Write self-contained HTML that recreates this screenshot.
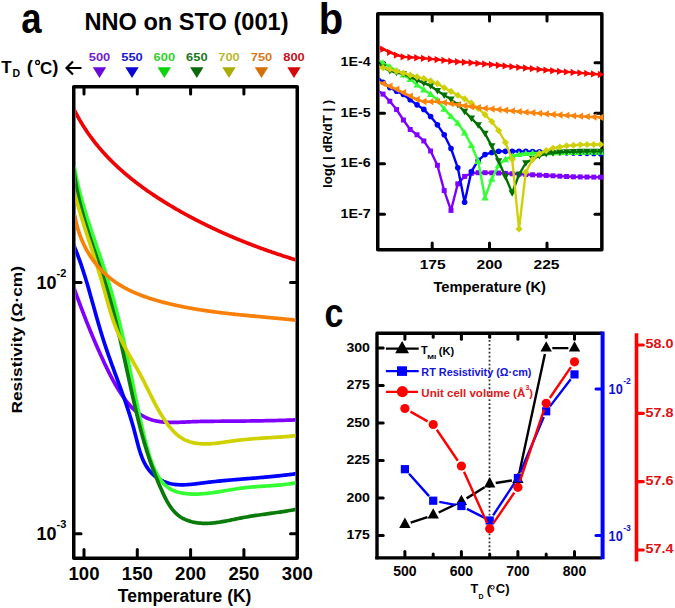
<!DOCTYPE html>
<html><head><meta charset="utf-8"><style>
html,body{margin:0;padding:0;background:#fff;}
svg{display:block;}
</style></head><body>
<svg width="675" height="608" viewBox="0 0 675 608">
<rect width="675" height="608" fill="#fff"/>
<text transform="translate(21.3,33.4) scale(0.87,1)" x="0" y="0" font-size="42" font-family="Liberation Sans, sans-serif" font-weight="bold">a</text>
<text x="84.5" y="30" font-size="24" font-family="Liberation Sans, sans-serif" font-weight="bold" textLength="204" lengthAdjust="spacingAndGlyphs">NNO on STO (001)</text>
<text x="1.3" y="73.3" font-size="17" font-family="Liberation Sans, sans-serif" font-weight="bold">T</text>
<text x="12.6" y="77.4" font-size="10.5" font-family="Liberation Sans, sans-serif" font-weight="bold">D</text>
<text x="26.8" y="72.7" font-size="18.5" font-family="Liberation Sans, sans-serif" font-weight="bold">(</text>
<circle cx="37.6" cy="62.4" r="1.9" fill="none" stroke="#000" stroke-width="1.3"/>
<text x="40" y="74" font-size="17" font-family="Liberation Sans, sans-serif" font-weight="bold">C</text>
<text x="52.3" y="72.7" font-size="18.5" font-family="Liberation Sans, sans-serif" font-weight="bold">)</text>
<path d="M81.5,68 H66.5 M73,61.5 L66.5,68 L73,74.5" fill="none" stroke="#000" stroke-width="2.2" stroke-linecap="butt"/>
<text x="99.5" y="61.3" font-size="11.5" font-family="Liberation Sans, sans-serif" font-weight="bold" fill="#7020d0" text-anchor="middle" textLength="21.5" lengthAdjust="spacingAndGlyphs">500</text>
<path d="M92.8,67.3 L106.2,67.3 L99.5,77.9 Z" fill="#6a0ad8"/>
<text x="132.0" y="61.3" font-size="11.5" font-family="Liberation Sans, sans-serif" font-weight="bold" fill="#1a1acc" text-anchor="middle" textLength="21.5" lengthAdjust="spacingAndGlyphs">550</text>
<path d="M125.3,67.3 L138.7,67.3 L132.0,77.9 Z" fill="#0808d0"/>
<text x="164.3" y="61.3" font-size="11.5" font-family="Liberation Sans, sans-serif" font-weight="bold" fill="#30d030" text-anchor="middle" textLength="21.5" lengthAdjust="spacingAndGlyphs">600</text>
<path d="M157.6,67.3 L171.0,67.3 L164.3,77.9 Z" fill="#0cd40c"/>
<text x="196.8" y="61.3" font-size="11.5" font-family="Liberation Sans, sans-serif" font-weight="bold" fill="#187818" text-anchor="middle" textLength="21.5" lengthAdjust="spacingAndGlyphs">650</text>
<path d="M190.1,67.3 L203.5,67.3 L196.8,77.9 Z" fill="#0c6a0c"/>
<text x="229.0" y="61.3" font-size="11.5" font-family="Liberation Sans, sans-serif" font-weight="bold" fill="#b8b830" text-anchor="middle" textLength="21.5" lengthAdjust="spacingAndGlyphs">700</text>
<path d="M222.3,67.3 L235.7,67.3 L229.0,77.9 Z" fill="#acac08"/>
<text x="261.5" y="61.3" font-size="11.5" font-family="Liberation Sans, sans-serif" font-weight="bold" fill="#d87820" text-anchor="middle" textLength="21.5" lengthAdjust="spacingAndGlyphs">750</text>
<path d="M254.8,67.3 L268.2,67.3 L261.5,77.9 Z" fill="#d47004"/>
<text x="294.0" y="61.3" font-size="11.5" font-family="Liberation Sans, sans-serif" font-weight="bold" fill="#c81020" text-anchor="middle" textLength="21.5" lengthAdjust="spacingAndGlyphs">800</text>
<path d="M287.3,67.3 L300.7,67.3 L294.0,77.9 Z" fill="#d40808"/>
<rect x="73.75" y="86.75" width="223.5" height="471.5" fill="none" stroke="#000" stroke-width="3.5" stroke-linejoin="round"/>
<line x1="84.0" y1="556.5" x2="84.0" y2="549.5" stroke="#000" stroke-width="3" stroke-linecap="round"/>
<line x1="84.0" y1="88.5" x2="84.0" y2="94" stroke="#000" stroke-width="3" stroke-linecap="round"/>
<line x1="137.3" y1="556.5" x2="137.3" y2="549.5" stroke="#000" stroke-width="3" stroke-linecap="round"/>
<line x1="137.3" y1="88.5" x2="137.3" y2="94" stroke="#000" stroke-width="3" stroke-linecap="round"/>
<line x1="190.6" y1="556.5" x2="190.6" y2="549.5" stroke="#000" stroke-width="3" stroke-linecap="round"/>
<line x1="190.6" y1="88.5" x2="190.6" y2="94" stroke="#000" stroke-width="3" stroke-linecap="round"/>
<line x1="243.9" y1="556.5" x2="243.9" y2="549.5" stroke="#000" stroke-width="3" stroke-linecap="round"/>
<line x1="243.9" y1="88.5" x2="243.9" y2="94" stroke="#000" stroke-width="3" stroke-linecap="round"/>
<line x1="75.5" y1="282.5" x2="81" y2="282.5" stroke="#000" stroke-width="3" stroke-linecap="round"/>
<line x1="295.5" y1="282.5" x2="290.5" y2="282.5" stroke="#000" stroke-width="3" stroke-linecap="round"/>
<line x1="75.5" y1="533.7" x2="81" y2="533.7" stroke="#000" stroke-width="3" stroke-linecap="round"/>
<line x1="295.5" y1="533.7" x2="290.5" y2="533.7" stroke="#000" stroke-width="3" stroke-linecap="round"/>
<text x="84.0" y="579.7" font-size="17.5" font-family="Liberation Sans, sans-serif" font-weight="bold" text-anchor="middle" textLength="31" lengthAdjust="spacingAndGlyphs">100</text>
<text x="137.3" y="579.7" font-size="17.5" font-family="Liberation Sans, sans-serif" font-weight="bold" text-anchor="middle" textLength="31" lengthAdjust="spacingAndGlyphs">150</text>
<text x="190.6" y="579.7" font-size="17.5" font-family="Liberation Sans, sans-serif" font-weight="bold" text-anchor="middle" textLength="31" lengthAdjust="spacingAndGlyphs">200</text>
<text x="243.9" y="579.7" font-size="17.5" font-family="Liberation Sans, sans-serif" font-weight="bold" text-anchor="middle" textLength="31" lengthAdjust="spacingAndGlyphs">250</text>
<text x="297.3" y="579.7" font-size="17.5" font-family="Liberation Sans, sans-serif" font-weight="bold" text-anchor="middle" textLength="31" lengthAdjust="spacingAndGlyphs">300</text>
<text x="36.4" y="289.0" font-size="18" font-family="Liberation Sans, sans-serif" font-weight="bold">10</text>
<text x="56.6" y="277.1" font-size="11" font-family="Liberation Sans, sans-serif" font-weight="bold">-2</text>
<text x="36.4" y="540.2" font-size="18" font-family="Liberation Sans, sans-serif" font-weight="bold">10</text>
<text x="56.6" y="528.3" font-size="11" font-family="Liberation Sans, sans-serif" font-weight="bold">-3</text>
<text x="117.8" y="601.5" font-size="17.5" font-family="Liberation Sans, sans-serif" font-weight="bold" textLength="133.6" lengthAdjust="spacingAndGlyphs">Temperature (K)</text>
<text transform="translate(21.8,413.5) rotate(-90)" x="0" y="0" font-size="15.5" font-family="Liberation Sans, sans-serif" font-weight="bold" textLength="147.5" lengthAdjust="spacingAndGlyphs">Resistivity (Ω·cm)</text>
<defs><clipPath id="ca"><rect x="75.5" y="88.5" width="220" height="468"/></clipPath><clipPath id="cb"><rect x="379.5" y="15.5" width="224.5" height="232.5"/></clipPath></defs>
<g clip-path="url(#ca)" fill="none" stroke-width="3.7" stroke-linejoin="round" stroke-linecap="round">
<path d="M74.29,288.93 L74.64,289.90 L74.99,290.86 L75.34,291.83 L75.69,292.80 L76.04,293.76 L76.39,294.72 L76.74,295.68 L77.09,296.64 L77.44,297.60 L77.80,298.56 L78.15,299.51 L78.50,300.47 L78.86,301.42 L79.21,302.37 L79.56,303.32 L79.92,304.27 L80.28,305.22 L80.63,306.16 L80.99,307.11 L81.34,308.05 L81.70,309.00 L82.06,309.94 L82.42,310.88 L82.78,311.82 L83.14,312.76 L83.50,313.70 L83.86,314.64 L84.22,315.58 L84.59,316.51 L84.95,317.45 L85.32,318.38 L85.68,319.31 L86.05,320.24 L86.41,321.18 L86.78,322.11 L87.15,323.04 L87.52,323.97 L87.89,324.89 L88.26,325.82 L88.64,326.75 L89.01,327.68 L89.39,328.60 L89.76,329.53 L90.14,330.45 L90.52,331.37 L90.90,332.30 L91.28,333.22 L91.66,334.14 L92.04,335.06 L92.43,335.99 L92.81,336.91 L93.20,337.83 L93.59,338.75 L93.98,339.67 L94.37,340.59 L94.76,341.51 L95.15,342.42 L95.55,343.34 L95.94,344.26 L96.34,345.18 L96.74,346.10 L97.14,347.01 L97.54,347.93 L97.94,348.85 L98.35,349.76 L98.76,350.68 L99.16,351.60 L99.57,352.51 L99.99,353.43 L100.40,354.35 L100.81,355.26 L101.23,356.18 L101.65,357.10 L102.07,358.01 L102.49,358.93 L102.91,359.85 L103.34,360.76 L103.76,361.68 L104.19,362.60 L104.62,363.51 L105.06,364.43 L105.49,365.35 L105.93,366.27 L106.37,367.18 L106.81,368.10 L107.25,369.01 L107.70,369.93 L108.15,370.84 L108.60,371.75 L109.06,372.67 L109.52,373.58 L109.98,374.49 L110.45,375.39 L110.91,376.30 L111.39,377.20 L111.86,378.11 L112.34,379.01 L112.83,379.91 L113.32,380.80 L113.81,381.70 L114.30,382.59 L114.81,383.48 L115.31,384.37 L115.82,385.25 L116.33,386.13 L116.85,387.01 L117.38,387.88 L117.91,388.76 L118.44,389.63 L118.98,390.49 L119.53,391.35 L120.08,392.21 L120.63,393.06 L121.20,393.91 L121.76,394.76 L122.34,395.60 L122.92,396.44 L123.50,397.27 L124.09,398.10 L124.69,398.92 L125.30,399.74 L125.91,400.55 L126.53,401.35 L127.16,402.14 L127.79,402.92 L128.44,403.70 L129.09,404.46 L129.75,405.21 L130.42,405.95 L131.10,406.68 L131.79,407.40 L132.48,408.10 L133.19,408.79 L133.90,409.46 L134.63,410.12 L135.37,410.76 L136.12,411.38 L136.87,411.99 L137.64,412.59 L138.42,413.16 L139.21,413.72 L140.01,414.26 L140.81,414.78 L141.63,415.29 L142.46,415.77 L143.29,416.24 L144.14,416.70 L144.99,417.13 L145.85,417.55 L146.72,417.95 L147.60,418.33 L148.49,418.69 L149.39,419.03 L150.29,419.36 L151.20,419.66 L152.12,419.95 L153.05,420.22 L153.98,420.47 L154.92,420.70 L155.87,420.91 L156.82,421.11 L157.78,421.29 L158.75,421.45 L159.72,421.60 L160.70,421.73 L161.68,421.85 L162.67,421.96 L163.66,422.05 L164.66,422.14 L165.66,422.20 L166.67,422.26 L167.68,422.31 L168.69,422.35 L169.70,422.37 L170.72,422.39 L171.74,422.40 L172.77,422.41 L173.79,422.40 L174.82,422.39 L175.85,422.37 L176.88,422.35 L177.92,422.32 L178.95,422.29 L179.98,422.25 L181.02,422.21 L182.05,422.17 L183.09,422.12 L184.12,422.08 L185.16,422.03 L186.19,421.98 L187.22,421.93 L188.25,421.89 L189.28,421.84 L190.31,421.80 L191.33,421.76 L192.36,421.72 L193.38,421.68 L194.40,421.64 L195.42,421.61 L196.43,421.58 L197.45,421.55 L198.46,421.52 L199.47,421.50 L200.48,421.47 L201.49,421.45 L202.50,421.43 L203.51,421.41 L204.51,421.39 L205.52,421.38 L206.52,421.36 L207.52,421.35 L208.53,421.33 L209.53,421.32 L210.53,421.31 L211.53,421.30 L212.53,421.29 L213.53,421.28 L214.53,421.27 L215.53,421.26 L216.53,421.26 L217.53,421.25 L218.52,421.24 L219.52,421.24 L220.52,421.23 L221.52,421.22 L222.52,421.22 L223.52,421.21 L224.52,421.21 L225.52,421.20 L226.52,421.19 L227.52,421.19 L228.52,421.18 L229.52,421.17 L230.53,421.17 L231.53,421.16 L232.53,421.15 L233.54,421.14 L234.54,421.14 L235.54,421.13 L236.55,421.12 L237.55,421.11 L238.56,421.10 L239.57,421.09 L240.57,421.08 L241.58,421.07 L242.58,421.06 L243.59,421.05 L244.60,421.04 L245.61,421.03 L246.61,421.01 L247.62,421.00 L248.63,420.99 L249.64,420.98 L250.64,420.96 L251.65,420.95 L252.66,420.94 L253.67,420.92 L254.68,420.91 L255.69,420.89 L256.70,420.88 L257.71,420.86 L258.72,420.85 L259.72,420.83 L260.73,420.81 L261.74,420.80 L262.75,420.78 L263.76,420.76 L264.77,420.74 L265.78,420.72 L266.79,420.70 L267.80,420.68 L268.81,420.66 L269.82,420.64 L270.83,420.62 L271.84,420.60 L272.84,420.57 L273.85,420.55 L274.86,420.53 L275.87,420.50 L276.88,420.48 L277.89,420.45 L278.89,420.43 L279.90,420.40 L280.91,420.37 L281.92,420.35 L282.92,420.32 L283.93,420.29 L284.94,420.26 L285.94,420.23 L286.95,420.20 L287.96,420.17 L288.96,420.14 L289.97,420.11 L290.97,420.07 L291.97,420.04 L292.98,420.01 L293.98,419.97 L294.99,419.94 L295.99,419.90" stroke="#7f00ff"/>
<path d="M73.58,244.80 L74.08,245.98 L74.57,247.18 L75.06,248.37 L75.54,249.57 L76.02,250.77 L76.49,251.97 L76.96,253.18 L77.42,254.39 L77.87,255.60 L78.32,256.82 L78.77,258.04 L79.21,259.25 L79.65,260.48 L80.08,261.70 L80.51,262.93 L80.93,264.16 L81.35,265.39 L81.77,266.62 L82.18,267.86 L82.59,269.10 L82.99,270.33 L83.39,271.58 L83.79,272.82 L84.19,274.06 L84.58,275.31 L84.97,276.56 L85.35,277.81 L85.73,279.06 L86.11,280.31 L86.49,281.56 L86.87,282.82 L87.24,284.07 L87.61,285.33 L87.98,286.59 L88.35,287.85 L88.71,289.11 L89.08,290.37 L89.44,291.63 L89.80,292.89 L90.16,294.16 L90.52,295.42 L90.87,296.68 L91.23,297.95 L91.59,299.21 L91.94,300.48 L92.29,301.74 L92.65,303.01 L93.00,304.27 L93.35,305.54 L93.71,306.81 L94.06,308.07 L94.41,309.34 L94.77,310.60 L95.12,311.87 L95.48,313.13 L95.83,314.40 L96.19,315.66 L96.54,316.93 L96.90,318.19 L97.26,319.45 L97.62,320.71 L97.98,321.97 L98.34,323.23 L98.71,324.49 L99.08,325.75 L99.44,327.01 L99.81,328.26 L100.19,329.52 L100.56,330.77 L100.94,332.02 L101.32,333.28 L101.70,334.52 L102.08,335.77 L102.47,337.02 L102.86,338.26 L103.25,339.51 L103.65,340.75 L104.05,341.99 L104.45,343.22 L104.86,344.46 L105.27,345.69 L105.68,346.93 L106.09,348.16 L106.51,349.39 L106.93,350.62 L107.35,351.84 L107.78,353.07 L108.20,354.29 L108.63,355.52 L109.06,356.74 L109.50,357.96 L109.93,359.18 L110.37,360.40 L110.80,361.62 L111.24,362.84 L111.68,364.06 L112.13,365.28 L112.57,366.49 L113.01,367.71 L113.46,368.92 L113.90,370.14 L114.35,371.36 L114.80,372.57 L115.24,373.79 L115.69,375.00 L116.14,376.22 L116.59,377.43 L117.03,378.65 L117.48,379.87 L117.93,381.08 L118.38,382.30 L118.82,383.52 L119.27,384.74 L119.71,385.96 L120.16,387.18 L120.60,388.40 L121.05,389.62 L121.49,390.84 L121.93,392.06 L122.37,393.29 L122.81,394.51 L123.24,395.74 L123.68,396.97 L124.11,398.20 L124.54,399.43 L124.97,400.66 L125.39,401.90 L125.82,403.13 L126.24,404.37 L126.66,405.61 L127.08,406.85 L127.49,408.09 L127.90,409.34 L128.31,410.58 L128.72,411.83 L129.12,413.08 L129.52,414.34 L129.92,415.59 L130.31,416.85 L130.70,418.11 L131.08,419.37 L131.46,420.64 L131.84,421.91 L132.22,423.18 L132.59,424.45 L132.95,425.73 L133.31,427.01 L133.67,428.29 L134.02,429.58 L134.37,430.87 L134.71,432.16 L135.05,433.46 L135.38,434.75 L135.71,436.05 L136.04,437.35 L136.37,438.66 L136.70,439.95 L137.03,441.25 L137.37,442.55 L137.71,443.84 L138.06,445.13 L138.41,446.41 L138.77,447.69 L139.14,448.96 L139.52,450.22 L139.91,451.47 L140.31,452.71 L140.73,453.95 L141.16,455.17 L141.61,456.38 L142.07,457.58 L142.55,458.76 L143.06,459.93 L143.58,461.08 L144.13,462.22 L144.69,463.34 L145.29,464.45 L145.90,465.53 L146.55,466.59 L147.22,467.64 L147.92,468.66 L148.65,469.66 L149.41,470.64 L150.21,471.59 L151.04,472.52 L151.90,473.42 L152.80,474.30 L153.73,475.14 L154.71,475.96 L155.71,476.75 L156.75,477.51 L157.82,478.24 L158.91,478.93 L160.04,479.59 L161.19,480.22 L162.36,480.80 L163.55,481.35 L164.76,481.85 L165.98,482.32 L167.23,482.74 L168.48,483.12 L169.75,483.45 L171.03,483.75 L172.31,484.00 L173.60,484.22 L174.90,484.40 L176.20,484.55 L177.51,484.66 L178.82,484.75 L180.12,484.80 L181.43,484.83 L182.74,484.83 L184.04,484.81 L185.35,484.76 L186.66,484.70 L187.97,484.61 L189.28,484.51 L190.59,484.39 L191.89,484.27 L193.20,484.12 L194.51,483.98 L195.82,483.82 L197.13,483.65 L198.44,483.49 L199.74,483.32 L201.05,483.15 L202.36,482.98 L203.66,482.81 L204.97,482.65 L206.27,482.49 L207.58,482.34 L208.88,482.19 L210.19,482.04 L211.49,481.89 L212.79,481.75 L214.10,481.61 L215.40,481.48 L216.70,481.34 L218.00,481.21 L219.30,481.08 L220.61,480.95 L221.91,480.83 L223.21,480.70 L224.51,480.58 L225.81,480.46 L227.11,480.35 L228.41,480.23 L229.70,480.12 L231.00,480.00 L232.30,479.89 L233.60,479.78 L234.90,479.67 L236.20,479.56 L237.50,479.45 L238.80,479.35 L240.09,479.24 L241.39,479.13 L242.69,479.03 L243.99,478.92 L245.29,478.82 L246.58,478.71 L247.88,478.61 L249.18,478.50 L250.48,478.40 L251.78,478.29 L253.07,478.19 L254.37,478.08 L255.67,477.97 L256.97,477.86 L258.27,477.75 L259.57,477.64 L260.86,477.53 L262.16,477.42 L263.46,477.31 L264.76,477.19 L266.06,477.07 L267.36,476.96 L268.66,476.84 L269.96,476.71 L271.26,476.59 L272.56,476.46 L273.86,476.33 L275.17,476.20 L276.47,476.07 L277.77,475.93 L279.07,475.80 L280.38,475.65 L281.68,475.51 L282.98,475.36 L284.29,475.21 L285.59,475.06 L286.90,474.90 L288.20,474.74 L289.51,474.58 L290.82,474.41 L292.12,474.24 L293.43,474.06 L294.74,473.89 L296.05,473.70" stroke="#0000ff"/>
<path d="M74.40,167.38 L74.66,168.92 L74.93,170.47 L75.21,172.01 L75.50,173.55 L75.80,175.09 L76.11,176.62 L76.42,178.15 L76.75,179.68 L77.08,181.21 L77.42,182.73 L77.76,184.25 L78.12,185.77 L78.48,187.29 L78.85,188.80 L79.22,190.32 L79.61,191.83 L79.99,193.34 L80.39,194.84 L80.79,196.35 L81.20,197.85 L81.61,199.35 L82.03,200.85 L82.45,202.35 L82.88,203.85 L83.32,205.34 L83.76,206.83 L84.20,208.33 L84.65,209.82 L85.10,211.31 L85.56,212.79 L86.02,214.28 L86.48,215.77 L86.95,217.25 L87.43,218.74 L87.90,220.22 L88.38,221.70 L88.86,223.18 L89.35,224.66 L89.83,226.14 L90.32,227.62 L90.82,229.10 L91.31,230.57 L91.81,232.05 L92.30,233.53 L92.80,235.00 L93.30,236.48 L93.81,237.95 L94.31,239.43 L94.81,240.90 L95.32,242.38 L95.82,243.85 L96.33,245.33 L96.83,246.80 L97.34,248.28 L97.84,249.75 L98.35,251.22 L98.85,252.70 L99.35,254.18 L99.86,255.65 L100.36,257.13 L100.86,258.60 L101.35,260.08 L101.85,261.56 L102.35,263.04 L102.84,264.52 L103.33,266.00 L103.82,267.48 L104.30,268.96 L104.79,270.44 L105.27,271.93 L105.74,273.41 L106.22,274.90 L106.69,276.38 L107.16,277.87 L107.62,279.36 L108.08,280.85 L108.53,282.34 L108.99,283.84 L109.43,285.33 L109.88,286.83 L110.32,288.32 L110.75,289.82 L111.19,291.32 L111.62,292.82 L112.04,294.32 L112.46,295.82 L112.88,297.33 L113.30,298.83 L113.71,300.34 L114.12,301.84 L114.53,303.35 L114.93,304.86 L115.33,306.37 L115.73,307.88 L116.12,309.39 L116.51,310.90 L116.90,312.41 L117.29,313.93 L117.67,315.44 L118.05,316.95 L118.43,318.47 L118.80,319.99 L119.17,321.50 L119.54,323.02 L119.91,324.54 L120.27,326.06 L120.64,327.57 L121.00,329.09 L121.35,330.61 L121.71,332.13 L122.06,333.65 L122.41,335.18 L122.76,336.70 L123.11,338.22 L123.46,339.74 L123.80,341.26 L124.14,342.79 L124.48,344.31 L124.82,345.83 L125.15,347.36 L125.49,348.88 L125.82,350.41 L126.15,351.93 L126.48,353.45 L126.81,354.98 L127.14,356.50 L127.46,358.03 L127.79,359.55 L128.11,361.08 L128.43,362.60 L128.75,364.13 L129.07,365.65 L129.39,367.17 L129.71,368.70 L130.03,370.22 L130.34,371.75 L130.66,373.27 L130.97,374.79 L131.28,376.32 L131.60,377.84 L131.91,379.36 L132.22,380.88 L132.53,382.41 L132.84,383.93 L133.15,385.45 L133.46,386.97 L133.77,388.49 L134.08,390.01 L134.39,391.53 L134.70,393.05 L135.01,394.57 L135.31,396.08 L135.62,397.60 L135.93,399.12 L136.25,400.64 L136.56,402.15 L136.87,403.67 L137.18,405.19 L137.50,406.70 L137.82,408.22 L138.14,409.74 L138.46,411.25 L138.78,412.77 L139.11,414.29 L139.43,415.80 L139.76,417.32 L140.10,418.84 L140.43,420.36 L140.77,421.88 L141.11,423.40 L141.46,424.92 L141.81,426.44 L142.16,427.96 L142.52,429.48 L142.88,431.00 L143.24,432.52 L143.61,434.05 L143.99,435.57 L144.36,437.09 L144.75,438.62 L145.14,440.15 L145.53,441.68 L145.93,443.20 L146.33,444.73 L146.75,446.27 L147.16,447.80 L147.58,449.33 L148.01,450.86 L148.45,452.40 L148.90,453.93 L149.36,455.45 L149.83,456.97 L150.32,458.49 L150.82,460.00 L151.35,461.49 L151.89,462.98 L152.45,464.46 L153.03,465.92 L153.63,467.37 L154.26,468.80 L154.92,470.22 L155.60,471.62 L156.31,473.00 L157.06,474.36 L157.83,475.69 L158.64,477.01 L159.48,478.30 L160.36,479.56 L161.28,480.78 L162.23,481.97 L163.22,483.11 L164.26,484.21 L165.33,485.25 L166.44,486.24 L167.60,487.17 L168.80,488.03 L170.05,488.82 L171.34,489.54 L172.67,490.19 L174.04,490.77 L175.44,491.30 L176.86,491.76 L178.31,492.18 L179.79,492.54 L181.28,492.85 L182.78,493.13 L184.29,493.36 L185.80,493.56 L187.32,493.73 L188.84,493.86 L190.37,493.96 L191.90,494.03 L193.44,494.07 L194.98,494.08 L196.52,494.06 L198.07,494.03 L199.62,493.96 L201.17,493.88 L202.73,493.77 L204.29,493.64 L205.85,493.50 L207.41,493.34 L208.97,493.16 L210.54,492.97 L212.11,492.76 L213.67,492.54 L215.24,492.31 L216.81,492.08 L218.38,491.83 L219.95,491.58 L221.52,491.32 L223.09,491.06 L224.66,490.79 L226.23,490.53 L227.80,490.26 L229.37,490.00 L230.94,489.73 L232.50,489.48 L234.07,489.22 L235.63,488.98 L237.19,488.74 L238.74,488.51 L240.30,488.29 L241.85,488.08 L243.40,487.88 L244.95,487.70 L246.49,487.53 L248.03,487.37 L249.57,487.23 L251.11,487.09 L252.65,486.96 L254.18,486.83 L255.72,486.72 L257.25,486.60 L258.79,486.50 L260.32,486.39 L261.85,486.29 L263.39,486.19 L264.92,486.09 L266.46,485.99 L267.99,485.89 L269.53,485.79 L271.07,485.68 L272.61,485.57 L274.16,485.46 L275.70,485.34 L277.25,485.21 L278.80,485.07 L280.36,484.93 L281.92,484.77 L283.48,484.61 L285.05,484.43 L286.62,484.24 L288.20,484.03 L289.78,483.81 L291.36,483.58 L292.96,483.33 L294.55,483.06 L296.16,482.77" stroke="#33ff33"/>
<path d="M73.97,169.97 L74.15,171.58 L74.34,173.20 L74.54,174.81 L74.76,176.42 L74.98,178.03 L75.22,179.63 L75.47,181.23 L75.73,182.83 L76.01,184.43 L76.29,186.02 L76.58,187.61 L76.88,189.20 L77.20,190.79 L77.52,192.37 L77.85,193.95 L78.19,195.53 L78.55,197.11 L78.90,198.68 L79.27,200.25 L79.65,201.83 L80.03,203.39 L80.43,204.96 L80.83,206.53 L81.23,208.09 L81.65,209.65 L82.07,211.21 L82.50,212.77 L82.93,214.33 L83.37,215.88 L83.82,217.44 L84.27,218.99 L84.73,220.54 L85.19,222.09 L85.66,223.64 L86.13,225.19 L86.61,226.73 L87.09,228.28 L87.58,229.82 L88.07,231.37 L88.56,232.91 L89.06,234.45 L89.56,235.99 L90.06,237.53 L90.57,239.07 L91.08,240.61 L91.59,242.15 L92.10,243.69 L92.61,245.22 L93.13,246.76 L93.65,248.30 L94.17,249.83 L94.69,251.37 L95.21,252.91 L95.73,254.44 L96.25,255.98 L96.77,257.52 L97.29,259.05 L97.81,260.59 L98.33,262.12 L98.85,263.66 L99.36,265.20 L99.88,266.74 L100.39,268.27 L100.90,269.81 L101.41,271.35 L101.92,272.89 L102.43,274.43 L102.93,275.97 L103.43,277.51 L103.92,279.05 L104.42,280.60 L104.90,282.14 L105.39,283.69 L105.87,285.23 L106.34,286.78 L106.81,288.33 L107.28,289.88 L107.74,291.43 L108.20,292.98 L108.65,294.53 L109.10,296.09 L109.54,297.64 L109.98,299.20 L110.42,300.75 L110.85,302.31 L111.28,303.87 L111.70,305.43 L112.12,306.99 L112.54,308.55 L112.95,310.11 L113.36,311.68 L113.76,313.24 L114.17,314.81 L114.57,316.37 L114.96,317.94 L115.36,319.51 L115.75,321.07 L116.13,322.64 L116.52,324.21 L116.90,325.78 L117.28,327.35 L117.66,328.93 L118.03,330.50 L118.40,332.07 L118.77,333.64 L119.14,335.22 L119.51,336.79 L119.87,338.37 L120.23,339.94 L120.59,341.52 L120.95,343.10 L121.31,344.67 L121.66,346.25 L122.02,347.83 L122.37,349.41 L122.72,350.99 L123.07,352.57 L123.42,354.15 L123.77,355.73 L124.12,357.31 L124.46,358.89 L124.81,360.47 L125.15,362.05 L125.50,363.63 L125.84,365.21 L126.19,366.79 L126.53,368.37 L126.87,369.96 L127.22,371.54 L127.56,373.12 L127.90,374.70 L128.25,376.28 L128.59,377.87 L128.94,379.45 L129.28,381.03 L129.63,382.61 L129.97,384.20 L130.32,385.78 L130.67,387.36 L131.02,388.94 L131.37,390.52 L131.72,392.11 L132.07,393.69 L132.42,395.27 L132.78,396.85 L133.13,398.43 L133.49,400.01 L133.85,401.59 L134.21,403.17 L134.58,404.75 L134.94,406.33 L135.31,407.91 L135.68,409.49 L136.05,411.07 L136.43,412.65 L136.80,414.22 L137.18,415.80 L137.57,417.37 L137.95,418.95 L138.34,420.52 L138.73,422.09 L139.13,423.66 L139.53,425.23 L139.93,426.80 L140.34,428.36 L140.75,429.93 L141.17,431.49 L141.59,433.05 L142.01,434.61 L142.44,436.17 L142.87,437.73 L143.31,439.28 L143.76,440.83 L144.20,442.38 L144.66,443.93 L145.12,445.48 L145.58,447.02 L146.05,448.56 L146.52,450.10 L147.01,451.64 L147.49,453.18 L147.99,454.71 L148.49,456.24 L148.99,457.76 L149.50,459.29 L150.02,460.81 L150.55,462.33 L151.08,463.84 L151.62,465.36 L152.17,466.87 L152.72,468.38 L153.28,469.88 L153.85,471.39 L154.43,472.90 L155.01,474.40 L155.61,475.91 L156.21,477.42 L156.82,478.93 L157.44,480.43 L158.06,481.95 L158.70,483.46 L159.34,484.97 L160.00,486.49 L160.66,488.01 L161.33,489.54 L162.02,491.06 L162.71,492.59 L163.42,494.12 L164.14,495.63 L164.88,497.14 L165.64,498.63 L166.42,500.11 L167.22,501.56 L168.05,502.99 L168.90,504.40 L169.78,505.77 L170.68,507.10 L171.62,508.40 L172.60,509.65 L173.60,510.86 L174.65,512.02 L175.73,513.13 L176.85,514.18 L178.02,515.17 L179.22,516.09 L180.47,516.96 L181.77,517.76 L183.10,518.50 L184.46,519.18 L185.86,519.80 L187.29,520.37 L188.76,520.88 L190.25,521.34 L191.76,521.75 L193.30,522.11 L194.85,522.42 L196.43,522.68 L198.02,522.89 L199.63,523.06 L201.25,523.19 L202.87,523.28 L204.51,523.32 L206.15,523.33 L207.79,523.30 L209.43,523.24 L211.07,523.14 L212.71,523.01 L214.34,522.85 L215.97,522.66 L217.60,522.44 L219.22,522.21 L220.84,521.95 L222.46,521.68 L224.07,521.38 L225.68,521.08 L227.29,520.76 L228.90,520.44 L230.50,520.11 L232.11,519.78 L233.71,519.44 L235.31,519.11 L236.90,518.78 L238.50,518.45 L240.10,518.14 L241.69,517.83 L243.29,517.54 L244.88,517.25 L246.47,516.97 L248.06,516.70 L249.65,516.44 L251.25,516.18 L252.84,515.93 L254.43,515.69 L256.02,515.45 L257.61,515.21 L259.20,514.98 L260.79,514.75 L262.38,514.53 L263.98,514.30 L265.57,514.08 L267.16,513.86 L268.76,513.64 L270.35,513.42 L271.95,513.20 L273.54,512.98 L275.14,512.75 L276.74,512.52 L278.34,512.29 L279.95,512.06 L281.55,511.82 L283.15,511.57 L284.76,511.32 L286.37,511.07 L287.98,510.80 L289.60,510.53 L291.21,510.25 L292.83,509.97 L294.45,509.67 L296.07,509.36" stroke="#0a7a0a"/>
<path d="M73.75,190.02 L74.08,191.30 L74.41,192.57 L74.74,193.83 L75.07,195.10 L75.41,196.37 L75.75,197.63 L76.10,198.89 L76.45,200.15 L76.80,201.41 L77.15,202.67 L77.51,203.92 L77.87,205.18 L78.23,206.43 L78.59,207.69 L78.96,208.94 L79.33,210.19 L79.70,211.44 L80.07,212.69 L80.45,213.93 L80.83,215.18 L81.21,216.42 L81.59,217.67 L81.97,218.91 L82.36,220.16 L82.75,221.40 L83.14,222.64 L83.53,223.88 L83.92,225.12 L84.31,226.36 L84.71,227.60 L85.10,228.84 L85.50,230.08 L85.90,231.31 L86.29,232.55 L86.69,233.79 L87.09,235.03 L87.49,236.26 L87.90,237.50 L88.30,238.73 L88.70,239.97 L89.10,241.20 L89.50,242.44 L89.91,243.68 L90.31,244.91 L90.71,246.15 L91.12,247.38 L91.52,248.62 L91.92,249.85 L92.32,251.09 L92.73,252.33 L93.13,253.56 L93.53,254.80 L93.93,256.04 L94.33,257.28 L94.72,258.51 L95.12,259.75 L95.52,260.99 L95.91,262.23 L96.31,263.47 L96.70,264.71 L97.09,265.95 L97.48,267.20 L97.87,268.44 L98.26,269.68 L98.64,270.93 L99.02,272.17 L99.41,273.42 L99.79,274.67 L100.16,275.91 L100.54,277.16 L100.91,278.41 L101.28,279.67 L101.65,280.92 L102.02,282.17 L102.38,283.43 L102.74,284.68 L103.10,285.94 L103.46,287.20 L103.81,288.46 L104.16,289.72 L104.51,290.98 L104.86,292.25 L105.21,293.51 L105.56,294.77 L105.91,296.03 L106.26,297.30 L106.61,298.56 L106.96,299.82 L107.31,301.08 L107.66,302.34 L108.02,303.60 L108.38,304.86 L108.74,306.12 L109.10,307.37 L109.47,308.63 L109.84,309.88 L110.21,311.13 L110.59,312.38 L110.98,313.63 L111.37,314.87 L111.76,316.12 L112.17,317.35 L112.57,318.59 L112.99,319.82 L113.41,321.05 L113.84,322.28 L114.27,323.50 L114.72,324.72 L115.17,325.94 L115.63,327.15 L116.10,328.36 L116.58,329.56 L117.07,330.76 L117.57,331.96 L118.08,333.15 L118.60,334.33 L119.13,335.51 L119.67,336.69 L120.22,337.86 L120.77,339.03 L121.34,340.19 L121.92,341.35 L122.50,342.51 L123.09,343.66 L123.68,344.81 L124.29,345.96 L124.89,347.11 L125.51,348.25 L126.13,349.39 L126.75,350.53 L127.38,351.67 L128.01,352.81 L128.64,353.94 L129.28,355.07 L129.92,356.21 L130.56,357.34 L131.21,358.47 L131.85,359.61 L132.50,360.74 L133.15,361.87 L133.79,363.00 L134.44,364.14 L135.08,365.27 L135.73,366.41 L136.37,367.55 L137.01,368.68 L137.65,369.82 L138.28,370.97 L138.91,372.11 L139.54,373.26 L140.16,374.41 L140.78,375.56 L141.39,376.72 L142.00,377.88 L142.60,379.04 L143.20,380.20 L143.80,381.37 L144.39,382.54 L144.98,383.71 L145.56,384.88 L146.15,386.05 L146.73,387.22 L147.31,388.40 L147.89,389.57 L148.47,390.75 L149.05,391.92 L149.63,393.10 L150.21,394.27 L150.80,395.45 L151.38,396.62 L151.97,397.79 L152.56,398.96 L153.16,400.13 L153.75,401.29 L154.36,402.45 L154.96,403.61 L155.58,404.77 L156.19,405.92 L156.82,407.07 L157.45,408.22 L158.08,409.36 L158.73,410.50 L159.38,411.63 L160.04,412.76 L160.71,413.88 L161.39,415.00 L162.08,416.12 L162.78,417.22 L163.49,418.32 L164.21,419.42 L164.94,420.50 L165.68,421.59 L166.44,422.66 L167.21,423.72 L167.99,424.78 L168.78,425.82 L169.59,426.84 L170.42,427.85 L171.26,428.84 L172.12,429.82 L172.99,430.77 L173.88,431.69 L174.79,432.60 L175.72,433.47 L176.66,434.32 L177.62,435.13 L178.61,435.92 L179.61,436.67 L180.64,437.38 L181.68,438.05 L182.75,438.69 L183.84,439.28 L184.95,439.84 L186.08,440.35 L187.23,440.83 L188.40,441.26 L189.58,441.67 L190.78,442.03 L192.00,442.36 L193.23,442.66 L194.47,442.92 L195.72,443.15 L196.99,443.34 L198.26,443.51 L199.55,443.65 L200.84,443.76 L202.13,443.84 L203.44,443.89 L204.74,443.92 L206.05,443.92 L207.37,443.89 L208.68,443.85 L210.00,443.78 L211.32,443.70 L212.65,443.59 L213.97,443.48 L215.29,443.34 L216.62,443.20 L217.95,443.04 L219.27,442.87 L220.60,442.70 L221.92,442.51 L223.24,442.33 L224.57,442.14 L225.89,441.95 L227.21,441.75 L228.52,441.56 L229.83,441.38 L231.14,441.19 L232.45,441.01 L233.76,440.84 L235.06,440.67 L236.36,440.50 L237.66,440.34 L238.95,440.19 L240.25,440.03 L241.54,439.89 L242.83,439.75 L244.12,439.61 L245.41,439.47 L246.70,439.35 L247.99,439.22 L249.27,439.10 L250.56,438.99 L251.85,438.88 L253.14,438.77 L254.43,438.67 L255.72,438.57 L257.01,438.48 L258.30,438.39 L259.59,438.30 L260.88,438.22 L262.18,438.13 L263.47,438.05 L264.76,437.98 L266.06,437.90 L267.35,437.82 L268.65,437.75 L269.94,437.67 L271.24,437.60 L272.54,437.52 L273.84,437.44 L275.14,437.36 L276.44,437.28 L277.74,437.20 L279.04,437.12 L280.35,437.03 L281.65,436.95 L282.96,436.85 L284.26,436.76 L285.57,436.66 L286.88,436.55 L288.19,436.44 L289.50,436.33 L290.81,436.21 L292.12,436.09 L293.44,435.96 L294.75,435.82 L296.07,435.68" stroke="#cfd200"/>
<path d="M74.88,215.79 L75.03,216.70 L75.19,217.61 L75.36,218.52 L75.53,219.42 L75.72,220.33 L75.91,221.23 L76.11,222.13 L76.31,223.02 L76.53,223.92 L76.75,224.81 L76.98,225.70 L77.22,226.58 L77.46,227.47 L77.71,228.35 L77.97,229.23 L78.24,230.10 L78.51,230.98 L78.79,231.85 L79.08,232.71 L79.37,233.58 L79.67,234.44 L79.98,235.29 L80.30,236.15 L80.62,237.00 L80.95,237.85 L81.29,238.69 L81.64,239.53 L81.99,240.37 L82.35,241.20 L82.71,242.03 L83.08,242.86 L83.46,243.68 L83.85,244.49 L84.24,245.31 L84.64,246.12 L85.04,246.92 L85.46,247.73 L85.88,248.52 L86.30,249.32 L86.73,250.10 L87.17,250.89 L87.62,251.67 L88.07,252.44 L88.53,253.21 L88.99,253.98 L89.46,254.74 L89.94,255.49 L90.42,256.24 L90.91,256.99 L91.41,257.73 L91.91,258.47 L92.42,259.20 L92.93,259.92 L93.45,260.64 L93.98,261.36 L94.51,262.07 L95.05,262.77 L95.59,263.47 L96.14,264.16 L96.70,264.85 L97.26,265.53 L97.83,266.20 L98.40,266.87 L98.98,267.53 L99.57,268.19 L100.16,268.84 L100.76,269.49 L101.36,270.13 L101.97,270.76 L102.58,271.38 L103.20,272.00 L103.82,272.62 L104.45,273.22 L105.09,273.82 L105.73,274.41 L106.37,275.00 L107.03,275.58 L107.68,276.15 L108.34,276.72 L109.01,277.28 L109.68,277.83 L110.36,278.37 L111.04,278.91 L111.73,279.44 L112.42,279.96 L113.12,280.48 L113.82,280.99 L114.53,281.50 L115.24,282.00 L115.96,282.49 L116.68,282.97 L117.40,283.45 L118.13,283.92 L118.86,284.39 L119.60,284.85 L120.34,285.30 L121.09,285.75 L121.84,286.20 L122.59,286.63 L123.35,287.06 L124.11,287.49 L124.88,287.91 L125.65,288.32 L126.42,288.73 L127.20,289.13 L127.98,289.53 L128.76,289.92 L129.55,290.31 L130.34,290.69 L131.13,291.07 L131.93,291.44 L132.73,291.81 L133.53,292.17 L134.34,292.53 L135.14,292.88 L135.96,293.22 L136.77,293.57 L137.59,293.90 L138.41,294.24 L139.23,294.57 L140.05,294.89 L140.88,295.21 L141.71,295.53 L142.54,295.84 L143.37,296.14 L144.21,296.45 L145.05,296.75 L145.89,297.04 L146.73,297.33 L147.57,297.62 L148.42,297.90 L149.27,298.18 L150.11,298.46 L150.97,298.73 L151.82,299.00 L152.67,299.26 L153.53,299.53 L154.38,299.78 L155.24,300.04 L156.10,300.29 L156.96,300.54 L157.82,300.78 L158.68,301.03 L159.55,301.27 L160.41,301.50 L161.28,301.74 L162.14,301.97 L163.01,302.19 L163.87,302.42 L164.74,302.64 L165.61,302.86 L166.48,303.08 L167.35,303.30 L168.22,303.51 L169.09,303.72 L169.96,303.93 L170.83,304.13 L171.70,304.34 L172.57,304.54 L173.44,304.74 L174.31,304.93 L175.18,305.13 L176.05,305.32 L176.93,305.51 L177.80,305.70 L178.67,305.88 L179.55,306.06 L180.42,306.25 L181.29,306.43 L182.17,306.60 L183.04,306.78 L183.92,306.95 L184.79,307.12 L185.67,307.29 L186.54,307.46 L187.42,307.62 L188.29,307.79 L189.17,307.95 L190.04,308.11 L190.92,308.27 L191.80,308.42 L192.68,308.58 L193.55,308.73 L194.43,308.88 L195.31,309.03 L196.19,309.18 L197.06,309.32 L197.94,309.46 L198.82,309.61 L199.70,309.75 L200.58,309.89 L201.46,310.02 L202.34,310.16 L203.22,310.29 L204.10,310.43 L204.98,310.56 L205.86,310.69 L206.74,310.82 L207.62,310.94 L208.50,311.07 L209.38,311.19 L210.26,311.32 L211.14,311.44 L212.02,311.56 L212.90,311.68 L213.79,311.79 L214.67,311.91 L215.55,312.03 L216.43,312.14 L217.31,312.25 L218.20,312.36 L219.08,312.47 L219.96,312.58 L220.84,312.69 L221.72,312.80 L222.61,312.91 L223.49,313.01 L224.37,313.11 L225.26,313.22 L226.14,313.32 L227.02,313.42 L227.91,313.52 L228.79,313.62 L229.67,313.72 L230.56,313.82 L231.44,313.91 L232.32,314.01 L233.21,314.10 L234.09,314.20 L234.97,314.29 L235.86,314.38 L236.74,314.48 L237.63,314.57 L238.51,314.66 L239.39,314.75 L240.28,314.84 L241.16,314.93 L242.05,315.02 L242.93,315.10 L243.81,315.19 L244.70,315.28 L245.58,315.36 L246.46,315.45 L247.35,315.53 L248.23,315.62 L249.12,315.70 L250.00,315.79 L250.88,315.87 L251.77,315.95 L252.65,316.04 L253.54,316.12 L254.42,316.20 L255.30,316.29 L256.19,316.37 L257.07,316.45 L257.95,316.53 L258.84,316.61 L259.72,316.69 L260.61,316.78 L261.49,316.86 L262.37,316.94 L263.26,317.02 L264.14,317.10 L265.02,317.18 L265.90,317.26 L266.79,317.34 L267.67,317.42 L268.55,317.50 L269.44,317.59 L270.32,317.67 L271.20,317.75 L272.08,317.83 L272.96,317.91 L273.85,317.99 L274.73,318.08 L275.61,318.16 L276.49,318.24 L277.37,318.32 L278.25,318.41 L279.14,318.49 L280.02,318.58 L280.90,318.66 L281.78,318.75 L282.66,318.83 L283.54,318.92 L284.42,319.00 L285.30,319.09 L286.18,319.18 L287.06,319.26 L287.94,319.35 L288.82,319.44 L289.70,319.53 L290.58,319.62 L291.45,319.71 L292.33,319.80 L293.21,319.90 L294.09,319.99 L294.97,320.08 L295.85,320.18" stroke="#f98008"/>
<path d="M73.28,107.82 L73.69,108.68 L74.11,109.54 L74.53,110.39 L74.96,111.24 L75.39,112.09 L75.82,112.93 L76.26,113.77 L76.70,114.61 L77.15,115.44 L77.60,116.27 L78.05,117.10 L78.51,117.92 L78.97,118.74 L79.44,119.56 L79.90,120.37 L80.38,121.18 L80.85,121.99 L81.33,122.79 L81.82,123.59 L82.30,124.39 L82.79,125.18 L83.29,125.98 L83.79,126.76 L84.29,127.55 L84.79,128.33 L85.30,129.11 L85.81,129.88 L86.33,130.65 L86.85,131.42 L87.37,132.19 L87.90,132.95 L88.43,133.71 L88.96,134.47 L89.49,135.22 L90.03,135.97 L90.58,136.72 L91.12,137.46 L91.67,138.20 L92.22,138.94 L92.78,139.68 L93.34,140.41 L93.90,141.14 L94.47,141.86 L95.04,142.59 L95.61,143.31 L96.18,144.02 L96.76,144.74 L97.34,145.45 L97.93,146.16 L98.52,146.87 L99.11,147.57 L99.70,148.27 L100.30,148.97 L100.90,149.66 L101.50,150.35 L102.10,151.04 L102.71,151.73 L103.32,152.41 L103.94,153.09 L104.56,153.77 L105.18,154.45 L105.80,155.12 L106.42,155.79 L107.05,156.46 L107.68,157.12 L108.32,157.78 L108.95,158.44 L109.59,159.10 L110.24,159.75 L110.88,160.40 L111.53,161.05 L112.18,161.70 L112.83,162.34 L113.49,162.98 L114.14,163.62 L114.80,164.25 L115.47,164.89 L116.13,165.52 L116.80,166.15 L117.47,166.77 L118.14,167.40 L118.82,168.02 L119.50,168.63 L120.18,169.25 L120.86,169.86 L121.54,170.47 L122.23,171.08 L122.92,171.69 L123.61,172.29 L124.31,172.89 L125.00,173.49 L125.70,174.09 L126.40,174.68 L127.11,175.27 L127.81,175.86 L128.52,176.45 L129.23,177.03 L129.94,177.62 L130.65,178.20 L131.37,178.78 L132.09,179.35 L132.81,179.92 L133.53,180.50 L134.25,181.06 L134.98,181.63 L135.71,182.20 L136.44,182.76 L137.17,183.32 L137.90,183.88 L138.64,184.43 L139.38,184.99 L140.12,185.54 L140.86,186.09 L141.60,186.63 L142.35,187.18 L143.09,187.72 L143.84,188.26 L144.59,188.80 L145.34,189.34 L146.10,189.88 L146.85,190.41 L147.61,190.94 L148.37,191.47 L149.13,192.00 L149.89,192.52 L150.65,193.04 L151.42,193.57 L152.19,194.08 L152.95,194.60 L153.72,195.12 L154.50,195.63 L155.27,196.14 L156.04,196.65 L156.82,197.16 L157.59,197.67 L158.37,198.17 L159.15,198.67 L159.93,199.17 L160.72,199.67 L161.50,200.17 L162.28,200.66 L163.07,201.16 L163.86,201.65 L164.65,202.14 L165.44,202.63 L166.23,203.11 L167.02,203.60 L167.81,204.08 L168.61,204.56 L169.40,205.04 L170.20,205.52 L171.00,206.00 L171.80,206.47 L172.60,206.95 L173.40,207.42 L174.20,207.89 L175.00,208.36 L175.81,208.82 L176.61,209.29 L177.42,209.75 L178.23,210.21 L179.03,210.67 L179.84,211.13 L180.65,211.59 L181.46,212.05 L182.27,212.50 L183.09,212.95 L183.90,213.40 L184.71,213.85 L185.53,214.30 L186.35,214.75 L187.16,215.19 L187.98,215.64 L188.80,216.08 L189.62,216.52 L190.44,216.96 L191.26,217.39 L192.08,217.83 L192.91,218.26 L193.73,218.70 L194.55,219.13 L195.38,219.56 L196.21,219.98 L197.03,220.41 L197.86,220.83 L198.69,221.26 L199.52,221.68 L200.35,222.10 L201.18,222.52 L202.01,222.93 L202.84,223.35 L203.67,223.76 L204.51,224.18 L205.34,224.59 L206.18,225.00 L207.01,225.41 L207.85,225.81 L208.69,226.22 L209.52,226.62 L210.36,227.02 L211.20,227.42 L212.04,227.82 L212.88,228.22 L213.72,228.62 L214.57,229.01 L215.41,229.40 L216.25,229.79 L217.09,230.18 L217.94,230.57 L218.78,230.96 L219.63,231.35 L220.47,231.73 L221.32,232.11 L222.17,232.49 L223.01,232.87 L223.86,233.25 L224.71,233.63 L225.56,234.00 L226.41,234.38 L227.26,234.75 L228.11,235.12 L228.96,235.49 L229.81,235.86 L230.67,236.22 L231.52,236.59 L232.37,236.95 L233.22,237.32 L234.08,237.68 L234.93,238.04 L235.79,238.39 L236.64,238.75 L237.50,239.10 L238.36,239.46 L239.21,239.81 L240.07,240.16 L240.93,240.51 L241.78,240.86 L242.64,241.20 L243.50,241.55 L244.36,241.89 L245.22,242.24 L246.08,242.58 L246.94,242.92 L247.80,243.25 L248.66,243.59 L249.52,243.93 L250.38,244.26 L251.24,244.59 L252.10,244.92 L252.97,245.25 L253.83,245.58 L254.69,245.91 L255.55,246.23 L256.42,246.56 L257.28,246.88 L258.14,247.20 L259.01,247.52 L259.87,247.84 L260.74,248.15 L261.60,248.47 L262.47,248.78 L263.33,249.10 L264.20,249.41 L265.06,249.72 L265.93,250.03 L266.79,250.34 L267.66,250.64 L268.52,250.95 L269.39,251.25 L270.26,251.55 L271.12,251.85 L271.99,252.15 L272.85,252.45 L273.72,252.75 L274.59,253.04 L275.46,253.34 L276.32,253.63 L277.19,253.92 L278.06,254.21 L278.92,254.50 L279.79,254.79 L280.66,255.07 L281.52,255.36 L282.39,255.64 L283.26,255.92 L284.13,256.20 L284.99,256.48 L285.86,256.76 L286.73,257.04 L287.60,257.31 L288.46,257.59 L289.33,257.86 L290.20,258.13 L291.07,258.40 L291.93,258.67 L292.80,258.94 L293.67,259.20 L294.53,259.47 L295.40,259.73" stroke="#ee0404"/>
</g>
<text transform="translate(318.8,33.7) scale(0.92,1)" x="0" y="0" font-size="43.5" font-family="Liberation Sans, sans-serif" font-weight="bold">b</text>
<rect x="377.75" y="13.75" width="224.1" height="235.9" fill="none" stroke="#000" stroke-width="3.5" stroke-linejoin="round"/>
<line x1="432.2" y1="247.5" x2="432.2" y2="243" stroke="#000" stroke-width="3" stroke-linecap="round"/>
<line x1="432.2" y1="15.5" x2="432.2" y2="21" stroke="#000" stroke-width="3" stroke-linecap="round"/>
<line x1="489.5" y1="247.5" x2="489.5" y2="243" stroke="#000" stroke-width="3" stroke-linecap="round"/>
<line x1="489.5" y1="15.5" x2="489.5" y2="21" stroke="#000" stroke-width="3" stroke-linecap="round"/>
<line x1="547.0" y1="247.5" x2="547.0" y2="243" stroke="#000" stroke-width="3" stroke-linecap="round"/>
<line x1="547.0" y1="15.5" x2="547.0" y2="21" stroke="#000" stroke-width="3" stroke-linecap="round"/>
<line x1="379.5" y1="62.7" x2="384.5" y2="62.7" stroke="#000" stroke-width="3" stroke-linecap="round"/>
<line x1="600" y1="62.7" x2="595" y2="62.7" stroke="#000" stroke-width="3" stroke-linecap="round"/>
<text x="370.6" y="66.1" font-size="12.5" font-family="Liberation Sans, sans-serif" font-weight="bold" text-anchor="end" textLength="30" lengthAdjust="spacingAndGlyphs">1E-4</text>
<line x1="379.5" y1="113.2" x2="384.5" y2="113.2" stroke="#000" stroke-width="3" stroke-linecap="round"/>
<line x1="600" y1="113.2" x2="595" y2="113.2" stroke="#000" stroke-width="3" stroke-linecap="round"/>
<text x="370.6" y="116.6" font-size="12.5" font-family="Liberation Sans, sans-serif" font-weight="bold" text-anchor="end" textLength="30" lengthAdjust="spacingAndGlyphs">1E-5</text>
<line x1="379.5" y1="163.7" x2="384.5" y2="163.7" stroke="#000" stroke-width="3" stroke-linecap="round"/>
<line x1="600" y1="163.7" x2="595" y2="163.7" stroke="#000" stroke-width="3" stroke-linecap="round"/>
<text x="370.6" y="167.1" font-size="12.5" font-family="Liberation Sans, sans-serif" font-weight="bold" text-anchor="end" textLength="30" lengthAdjust="spacingAndGlyphs">1E-6</text>
<line x1="379.5" y1="214.3" x2="384.5" y2="214.3" stroke="#000" stroke-width="3" stroke-linecap="round"/>
<line x1="600" y1="214.3" x2="595" y2="214.3" stroke="#000" stroke-width="3" stroke-linecap="round"/>
<text x="370.6" y="217.7" font-size="12.5" font-family="Liberation Sans, sans-serif" font-weight="bold" text-anchor="end" textLength="30" lengthAdjust="spacingAndGlyphs">1E-7</text>
<text x="432.7" y="269.2" font-size="13" font-family="Liberation Sans, sans-serif" font-weight="bold" text-anchor="middle" textLength="26" lengthAdjust="spacingAndGlyphs">175</text>
<text x="489.5" y="269.2" font-size="13" font-family="Liberation Sans, sans-serif" font-weight="bold" text-anchor="middle" textLength="26" lengthAdjust="spacingAndGlyphs">200</text>
<text x="546.5" y="269.2" font-size="13" font-family="Liberation Sans, sans-serif" font-weight="bold" text-anchor="middle" textLength="26" lengthAdjust="spacingAndGlyphs">225</text>
<text x="433.4" y="291.7" font-size="14.5" font-family="Liberation Sans, sans-serif" font-weight="bold" textLength="112.6" lengthAdjust="spacingAndGlyphs">Temperature (K)</text>
<text transform="translate(331.6,188) rotate(-90)" x="0" y="0" font-size="13" font-family="Liberation Sans, sans-serif" font-weight="bold" textLength="88.2" lengthAdjust="spacingAndGlyphs" xml:space="preserve">log( | dR/dT | )</text>
<g clip-path="url(#cb)">
<path d="M376.20,89.62 L383.00,94.12 L389.80,101.23 L396.60,109.56 L403.40,119.99 L410.20,129.49 L417.00,134.78 L423.80,140.95 L430.60,151.01 L437.40,165.30 L444.20,190.60 L451.00,210.40 L457.80,183.80 L464.60,176.40 L471.40,173.30 L478.20,172.70 L485.00,172.70 L491.80,172.87 L498.60,173.05 L505.40,173.37 L512.20,173.74 L519.00,174.12 L525.80,174.49 L532.60,174.82 L539.40,175.14 L546.20,175.47 L553.00,175.81 L559.80,176.16 L566.60,176.52 L573.40,176.82 L580.20,176.91 L587.00,177.01 L593.80,177.10 L600.60,177.19" fill="none" stroke="#8000ff" stroke-width="2.4" stroke-linejoin="round"/>
<rect x="373.72" y="87.13" width="4.97" height="4.97" fill="#8000ff"/><rect x="380.52" y="91.63" width="4.97" height="4.97" fill="#8000ff"/><rect x="387.32" y="98.75" width="4.97" height="4.97" fill="#8000ff"/><rect x="394.12" y="107.08" width="4.97" height="4.97" fill="#8000ff"/><rect x="400.92" y="117.51" width="4.97" height="4.97" fill="#8000ff"/><rect x="407.72" y="127.00" width="4.97" height="4.97" fill="#8000ff"/><rect x="414.52" y="132.30" width="4.97" height="4.97" fill="#8000ff"/><rect x="421.32" y="138.46" width="4.97" height="4.97" fill="#8000ff"/><rect x="428.12" y="148.53" width="4.97" height="4.97" fill="#8000ff"/><rect x="434.92" y="162.82" width="4.97" height="4.97" fill="#8000ff"/><rect x="441.72" y="188.12" width="4.97" height="4.97" fill="#8000ff"/><rect x="448.52" y="207.92" width="4.97" height="4.97" fill="#8000ff"/><rect x="455.32" y="181.32" width="4.97" height="4.97" fill="#8000ff"/><rect x="462.12" y="173.92" width="4.97" height="4.97" fill="#8000ff"/><rect x="468.92" y="170.82" width="4.97" height="4.97" fill="#8000ff"/><rect x="475.72" y="170.22" width="4.97" height="4.97" fill="#8000ff"/><rect x="482.52" y="170.22" width="4.97" height="4.97" fill="#8000ff"/><rect x="489.32" y="170.38" width="4.97" height="4.97" fill="#8000ff"/><rect x="496.12" y="170.56" width="4.97" height="4.97" fill="#8000ff"/><rect x="502.92" y="170.89" width="4.97" height="4.97" fill="#8000ff"/><rect x="509.72" y="171.26" width="4.97" height="4.97" fill="#8000ff"/><rect x="516.52" y="171.63" width="4.97" height="4.97" fill="#8000ff"/><rect x="523.32" y="172.01" width="4.97" height="4.97" fill="#8000ff"/><rect x="530.12" y="172.33" width="4.97" height="4.97" fill="#8000ff"/><rect x="536.92" y="172.66" width="4.97" height="4.97" fill="#8000ff"/><rect x="543.72" y="172.98" width="4.97" height="4.97" fill="#8000ff"/><rect x="550.52" y="173.32" width="4.97" height="4.97" fill="#8000ff"/><rect x="557.32" y="173.68" width="4.97" height="4.97" fill="#8000ff"/><rect x="564.12" y="174.03" width="4.97" height="4.97" fill="#8000ff"/><rect x="570.92" y="174.34" width="4.97" height="4.97" fill="#8000ff"/><rect x="577.72" y="174.43" width="4.97" height="4.97" fill="#8000ff"/><rect x="584.52" y="174.52" width="4.97" height="4.97" fill="#8000ff"/><rect x="591.32" y="174.62" width="4.97" height="4.97" fill="#8000ff"/><rect x="598.12" y="174.71" width="4.97" height="4.97" fill="#8000ff"/>
<path d="M376.20,76.18 L383.00,82.27 L389.80,87.57 L396.60,91.16 L403.40,94.53 L410.20,99.70 L417.00,104.86 L423.80,109.40 L430.60,116.56 L437.40,124.82 L444.20,134.78 L451.00,148.50 L457.80,167.80 L464.60,202.30 L471.40,171.50 L478.20,160.40 L485.00,154.59 L491.80,152.46 L498.60,151.30 L505.40,151.33 L512.20,151.35 L519.00,151.37 L525.80,151.40 L532.60,151.60 L539.40,151.81 L546.20,152.01 L553.00,152.26 L559.80,152.52 L566.60,152.79 L573.40,153.03 L580.20,153.20 L587.00,153.36 L593.80,153.53 L600.60,153.69" fill="none" stroke="#0000ff" stroke-width="2.4" stroke-linejoin="round"/>
<circle cx="376.20" cy="76.18" r="2.81" fill="#0000ff"/><circle cx="383.00" cy="82.27" r="2.81" fill="#0000ff"/><circle cx="389.80" cy="87.57" r="2.81" fill="#0000ff"/><circle cx="396.60" cy="91.16" r="2.81" fill="#0000ff"/><circle cx="403.40" cy="94.53" r="2.81" fill="#0000ff"/><circle cx="410.20" cy="99.70" r="2.81" fill="#0000ff"/><circle cx="417.00" cy="104.86" r="2.81" fill="#0000ff"/><circle cx="423.80" cy="109.40" r="2.81" fill="#0000ff"/><circle cx="430.60" cy="116.56" r="2.81" fill="#0000ff"/><circle cx="437.40" cy="124.82" r="2.81" fill="#0000ff"/><circle cx="444.20" cy="134.78" r="2.81" fill="#0000ff"/><circle cx="451.00" cy="148.50" r="2.81" fill="#0000ff"/><circle cx="457.80" cy="167.80" r="2.81" fill="#0000ff"/><circle cx="464.60" cy="202.30" r="2.81" fill="#0000ff"/><circle cx="471.40" cy="171.50" r="2.81" fill="#0000ff"/><circle cx="478.20" cy="160.40" r="2.81" fill="#0000ff"/><circle cx="485.00" cy="154.59" r="2.81" fill="#0000ff"/><circle cx="491.80" cy="152.46" r="2.81" fill="#0000ff"/><circle cx="498.60" cy="151.30" r="2.81" fill="#0000ff"/><circle cx="505.40" cy="151.33" r="2.81" fill="#0000ff"/><circle cx="512.20" cy="151.35" r="2.81" fill="#0000ff"/><circle cx="519.00" cy="151.37" r="2.81" fill="#0000ff"/><circle cx="525.80" cy="151.40" r="2.81" fill="#0000ff"/><circle cx="532.60" cy="151.60" r="2.81" fill="#0000ff"/><circle cx="539.40" cy="151.81" r="2.81" fill="#0000ff"/><circle cx="546.20" cy="152.01" r="2.81" fill="#0000ff"/><circle cx="553.00" cy="152.26" r="2.81" fill="#0000ff"/><circle cx="559.80" cy="152.52" r="2.81" fill="#0000ff"/><circle cx="566.60" cy="152.79" r="2.81" fill="#0000ff"/><circle cx="573.40" cy="153.03" r="2.81" fill="#0000ff"/><circle cx="580.20" cy="153.20" r="2.81" fill="#0000ff"/><circle cx="587.00" cy="153.36" r="2.81" fill="#0000ff"/><circle cx="593.80" cy="153.53" r="2.81" fill="#0000ff"/><circle cx="600.60" cy="153.69" r="2.81" fill="#0000ff"/>
<path d="M376.20,59.11 L383.00,62.93 L389.80,66.74 L396.60,70.72 L403.40,74.80 L410.20,79.18 L417.00,84.81 L423.80,89.67 L430.60,94.21 L437.40,99.87 L444.20,108.91 L451.00,116.36 L457.80,123.12 L464.60,132.69 L471.40,145.30 L478.20,161.30 L485.00,197.70 L491.80,179.00 L498.60,165.20 L505.40,159.45 L512.20,156.05 L519.00,154.27 L525.80,153.33 L532.60,153.10 L539.40,152.89 L546.20,152.69 L553.00,152.55 L559.80,152.45 L566.60,152.36 L573.40,152.27 L580.20,152.18 L587.00,152.09 L593.80,152.00 L600.60,151.91" fill="none" stroke="#33ff33" stroke-width="2.4" stroke-linejoin="round"/>
<path d="M376.20,55.44 L379.87,61.87 L372.53,61.87 Z" fill="#33ff33"/><path d="M383.00,59.25 L386.67,65.68 L379.33,65.68 Z" fill="#33ff33"/><path d="M389.80,63.07 L393.47,69.50 L386.13,69.50 Z" fill="#33ff33"/><path d="M396.60,67.05 L400.27,73.47 L392.93,73.47 Z" fill="#33ff33"/><path d="M403.40,71.13 L407.07,77.55 L399.73,77.55 Z" fill="#33ff33"/><path d="M410.20,75.50 L413.87,81.93 L406.53,81.93 Z" fill="#33ff33"/><path d="M417.00,81.14 L420.67,87.56 L413.33,87.56 Z" fill="#33ff33"/><path d="M423.80,86.00 L427.47,92.42 L420.13,92.42 Z" fill="#33ff33"/><path d="M430.60,90.53 L434.27,96.96 L426.93,96.96 Z" fill="#33ff33"/><path d="M437.40,96.20 L441.07,102.63 L433.73,102.63 Z" fill="#33ff33"/><path d="M444.20,105.24 L447.87,111.67 L440.53,111.67 Z" fill="#33ff33"/><path d="M451.00,112.69 L454.67,119.12 L447.33,119.12 Z" fill="#33ff33"/><path d="M457.80,119.45 L461.47,125.87 L454.13,125.87 Z" fill="#33ff33"/><path d="M464.60,129.01 L468.27,135.44 L460.93,135.44 Z" fill="#33ff33"/><path d="M471.40,141.63 L475.07,148.05 L467.73,148.05 Z" fill="#33ff33"/><path d="M478.20,157.63 L481.87,164.05 L474.53,164.05 Z" fill="#33ff33"/><path d="M485.00,194.03 L488.67,200.45 L481.33,200.45 Z" fill="#33ff33"/><path d="M491.80,175.33 L495.47,181.75 L488.13,181.75 Z" fill="#33ff33"/><path d="M498.60,161.53 L502.27,167.95 L494.93,167.95 Z" fill="#33ff33"/><path d="M505.40,155.78 L509.07,162.20 L501.73,162.20 Z" fill="#33ff33"/><path d="M512.20,152.38 L515.87,158.80 L508.53,158.80 Z" fill="#33ff33"/><path d="M519.00,150.60 L522.67,157.03 L515.33,157.03 Z" fill="#33ff33"/><path d="M525.80,149.66 L529.47,156.08 L522.13,156.08 Z" fill="#33ff33"/><path d="M532.60,149.43 L536.27,155.85 L528.93,155.85 Z" fill="#33ff33"/><path d="M539.40,149.22 L543.07,155.65 L535.73,155.65 Z" fill="#33ff33"/><path d="M546.20,149.01 L549.87,155.44 L542.53,155.44 Z" fill="#33ff33"/><path d="M553.00,148.87 L556.67,155.30 L549.33,155.30 Z" fill="#33ff33"/><path d="M559.80,148.78 L563.47,155.21 L556.13,155.21 Z" fill="#33ff33"/><path d="M566.60,148.69 L570.27,155.12 L562.93,155.12 Z" fill="#33ff33"/><path d="M573.40,148.60 L577.07,155.03 L569.73,155.03 Z" fill="#33ff33"/><path d="M580.20,148.51 L583.87,154.93 L576.53,154.93 Z" fill="#33ff33"/><path d="M587.00,148.42 L590.67,154.84 L583.33,154.84 Z" fill="#33ff33"/><path d="M593.80,148.32 L597.47,154.75 L590.13,154.75 Z" fill="#33ff33"/><path d="M600.60,148.23 L604.27,154.66 L596.93,154.66 Z" fill="#33ff33"/>
<path d="M376.20,62.63 L383.00,67.17 L389.80,70.92 L396.60,72.52 L403.40,74.12 L410.20,76.95 L417.00,80.15 L423.80,83.18 L430.60,85.92 L437.40,90.72 L444.20,95.23 L451.00,99.31 L457.80,104.80 L464.60,111.50 L471.40,118.30 L478.20,125.10 L485.00,133.57 L491.80,146.12 L498.60,161.00 L505.40,176.80 L512.20,193.00 L519.00,174.50 L525.80,163.00 L532.60,158.80 L539.40,155.93 L546.20,153.88 L553.00,152.98 L559.80,152.19 L566.60,151.92 L573.40,151.71 L580.20,151.50 L587.00,151.40 L593.80,151.40 L600.60,151.40" fill="none" stroke="#007000" stroke-width="2.4" stroke-linejoin="round"/>
<path d="M376.20,66.31 L379.87,59.88 L372.53,59.88 Z" fill="#007000"/><path d="M383.00,70.84 L386.67,64.41 L379.33,64.41 Z" fill="#007000"/><path d="M389.80,74.60 L393.47,68.17 L386.13,68.17 Z" fill="#007000"/><path d="M396.60,76.20 L400.27,69.77 L392.93,69.77 Z" fill="#007000"/><path d="M403.40,77.80 L407.07,71.37 L399.73,71.37 Z" fill="#007000"/><path d="M410.20,80.62 L413.87,74.19 L406.53,74.19 Z" fill="#007000"/><path d="M417.00,83.82 L420.67,77.39 L413.33,77.39 Z" fill="#007000"/><path d="M423.80,86.85 L427.47,80.42 L420.13,80.42 Z" fill="#007000"/><path d="M430.60,89.60 L434.27,83.17 L426.93,83.17 Z" fill="#007000"/><path d="M437.40,94.39 L441.07,87.97 L433.73,87.97 Z" fill="#007000"/><path d="M444.20,98.90 L447.87,92.48 L440.53,92.48 Z" fill="#007000"/><path d="M451.00,102.98 L454.67,96.55 L447.33,96.55 Z" fill="#007000"/><path d="M457.80,108.48 L461.47,102.05 L454.13,102.05 Z" fill="#007000"/><path d="M464.60,115.17 L468.27,108.75 L460.93,108.75 Z" fill="#007000"/><path d="M471.40,121.97 L475.07,115.55 L467.73,115.55 Z" fill="#007000"/><path d="M478.20,128.77 L481.87,122.35 L474.53,122.35 Z" fill="#007000"/><path d="M485.00,137.24 L488.67,130.81 L481.33,130.81 Z" fill="#007000"/><path d="M491.80,149.79 L495.47,143.37 L488.13,143.37 Z" fill="#007000"/><path d="M498.60,164.67 L502.27,158.25 L494.93,158.25 Z" fill="#007000"/><path d="M505.40,180.47 L509.07,174.05 L501.73,174.05 Z" fill="#007000"/><path d="M512.20,196.67 L515.87,190.25 L508.53,190.25 Z" fill="#007000"/><path d="M519.00,178.17 L522.67,171.75 L515.33,171.75 Z" fill="#007000"/><path d="M525.80,166.67 L529.47,160.25 L522.13,160.25 Z" fill="#007000"/><path d="M532.60,162.48 L536.27,156.05 L528.93,156.05 Z" fill="#007000"/><path d="M539.40,159.60 L543.07,153.18 L535.73,153.18 Z" fill="#007000"/><path d="M546.20,157.55 L549.87,151.13 L542.53,151.13 Z" fill="#007000"/><path d="M553.00,156.65 L556.67,150.23 L549.33,150.23 Z" fill="#007000"/><path d="M559.80,155.86 L563.47,149.44 L556.13,149.44 Z" fill="#007000"/><path d="M566.60,155.59 L570.27,149.16 L562.93,149.16 Z" fill="#007000"/><path d="M573.40,155.38 L577.07,148.96 L569.73,148.96 Z" fill="#007000"/><path d="M580.20,155.18 L583.87,148.75 L576.53,148.75 Z" fill="#007000"/><path d="M587.00,155.07 L590.67,148.65 L583.33,148.65 Z" fill="#007000"/><path d="M593.80,155.07 L597.47,148.65 L590.13,148.65 Z" fill="#007000"/><path d="M600.60,155.07 L604.27,148.65 L596.93,148.65 Z" fill="#007000"/>
<path d="M376.20,66.05 L383.00,67.66 L389.80,69.28 L396.60,71.15 L403.40,73.17 L410.20,75.13 L417.00,76.87 L423.80,78.62 L430.60,80.87 L437.40,83.65 L444.20,87.73 L451.00,91.42 L457.80,95.30 L464.60,98.86 L471.40,103.07 L478.20,108.49 L485.00,114.60 L491.80,121.47 L498.60,130.49 L505.40,142.49 L512.20,159.50 L519.00,229.00 L525.80,172.20 L532.60,159.50 L539.40,153.70 L546.20,150.58 L553.00,148.23 L559.80,146.98 L566.60,145.85 L573.40,145.26 L580.20,144.75 L587.00,144.50 L593.80,144.50 L600.60,144.50" fill="none" stroke="#d0d00a" stroke-width="2.4" stroke-linejoin="round"/>
<path d="M376.20,62.48 L379.76,66.05 L376.20,69.61 L372.64,66.05 Z" fill="#d0d00a"/><path d="M383.00,64.10 L386.56,67.66 L383.00,71.23 L379.44,67.66 Z" fill="#d0d00a"/><path d="M389.80,65.72 L393.36,69.28 L389.80,72.85 L386.24,69.28 Z" fill="#d0d00a"/><path d="M396.60,67.58 L400.16,71.15 L396.60,74.71 L393.04,71.15 Z" fill="#d0d00a"/><path d="M403.40,69.60 L406.96,73.17 L403.40,76.73 L399.84,73.17 Z" fill="#d0d00a"/><path d="M410.20,71.57 L413.76,75.13 L410.20,78.70 L406.64,75.13 Z" fill="#d0d00a"/><path d="M417.00,73.31 L420.56,76.87 L417.00,80.44 L413.44,76.87 Z" fill="#d0d00a"/><path d="M423.80,75.05 L427.36,78.62 L423.80,82.18 L420.24,78.62 Z" fill="#d0d00a"/><path d="M430.60,77.30 L434.16,80.87 L430.60,84.43 L427.04,80.87 Z" fill="#d0d00a"/><path d="M437.40,80.09 L440.96,83.65 L437.40,87.22 L433.84,83.65 Z" fill="#d0d00a"/><path d="M444.20,84.17 L447.76,87.73 L444.20,91.29 L440.64,87.73 Z" fill="#d0d00a"/><path d="M451.00,87.85 L454.56,91.42 L451.00,94.98 L447.44,91.42 Z" fill="#d0d00a"/><path d="M457.80,91.73 L461.36,95.30 L457.80,98.86 L454.24,95.30 Z" fill="#d0d00a"/><path d="M464.60,95.29 L468.16,98.86 L464.60,102.42 L461.04,98.86 Z" fill="#d0d00a"/><path d="M471.40,99.51 L474.96,103.07 L471.40,106.64 L467.84,103.07 Z" fill="#d0d00a"/><path d="M478.20,104.93 L481.76,108.49 L478.20,112.06 L474.64,108.49 Z" fill="#d0d00a"/><path d="M485.00,111.04 L488.56,114.60 L485.00,118.16 L481.44,114.60 Z" fill="#d0d00a"/><path d="M491.80,117.91 L495.36,121.47 L491.80,125.04 L488.24,121.47 Z" fill="#d0d00a"/><path d="M498.60,126.92 L502.16,130.49 L498.60,134.05 L495.04,130.49 Z" fill="#d0d00a"/><path d="M505.40,138.93 L508.96,142.49 L505.40,146.06 L501.84,142.49 Z" fill="#d0d00a"/><path d="M512.20,155.94 L515.76,159.50 L512.20,163.06 L508.64,159.50 Z" fill="#d0d00a"/><path d="M519.00,225.44 L522.56,229.00 L519.00,232.56 L515.44,229.00 Z" fill="#d0d00a"/><path d="M525.80,168.64 L529.36,172.20 L525.80,175.76 L522.24,172.20 Z" fill="#d0d00a"/><path d="M532.60,155.94 L536.16,159.50 L532.60,163.06 L529.04,159.50 Z" fill="#d0d00a"/><path d="M539.40,150.14 L542.96,153.70 L539.40,157.26 L535.84,153.70 Z" fill="#d0d00a"/><path d="M546.20,147.01 L549.76,150.58 L546.20,154.14 L542.64,150.58 Z" fill="#d0d00a"/><path d="M553.00,144.67 L556.56,148.23 L553.00,151.80 L549.44,148.23 Z" fill="#d0d00a"/><path d="M559.80,143.42 L563.36,146.98 L559.80,150.55 L556.24,146.98 Z" fill="#d0d00a"/><path d="M566.60,142.29 L570.16,145.85 L566.60,149.41 L563.04,145.85 Z" fill="#d0d00a"/><path d="M573.40,141.70 L576.96,145.26 L573.40,148.82 L569.84,145.26 Z" fill="#d0d00a"/><path d="M580.20,141.19 L583.76,144.75 L580.20,148.32 L576.64,144.75 Z" fill="#d0d00a"/><path d="M587.00,140.94 L590.56,144.50 L587.00,148.06 L583.44,144.50 Z" fill="#d0d00a"/><path d="M593.80,140.94 L597.36,144.50 L593.80,148.06 L590.24,144.50 Z" fill="#d0d00a"/><path d="M600.60,140.94 L604.16,144.50 L600.60,148.06 L597.04,144.50 Z" fill="#d0d00a"/>
<path d="M376.20,81.07 L383.00,83.62 L389.80,86.27 L396.60,89.25 L403.40,92.65 L410.20,96.05 L417.00,99.41 L423.80,101.53 L430.60,101.70 L437.40,101.68 L444.20,102.62 L451.00,103.69 L457.80,104.71 L464.60,105.71 L471.40,106.71 L478.20,107.62 L485.00,108.33 L491.80,108.97 L498.60,109.58 L505.40,110.25 L512.20,110.93 L519.00,111.62 L525.80,112.20 L532.60,112.77 L539.40,113.35 L546.20,113.93 L553.00,114.51 L559.80,115.03 L566.60,115.42 L573.40,115.81 L580.20,116.20 L587.00,116.59 L593.80,116.99 L600.60,117.38" fill="none" stroke="#fb850c" stroke-width="2.4" stroke-linejoin="round"/>
<path d="M372.53,81.07 L378.95,77.40 L378.95,84.75 Z" fill="#fb850c"/><path d="M379.33,83.62 L385.75,79.94 L385.75,87.29 Z" fill="#fb850c"/><path d="M386.13,86.27 L392.55,82.60 L392.55,89.94 Z" fill="#fb850c"/><path d="M392.93,89.25 L399.35,85.58 L399.35,92.92 Z" fill="#fb850c"/><path d="M399.73,92.65 L406.15,88.98 L406.15,96.32 Z" fill="#fb850c"/><path d="M406.53,96.05 L412.95,92.38 L412.95,99.72 Z" fill="#fb850c"/><path d="M413.33,99.41 L419.75,95.74 L419.75,103.08 Z" fill="#fb850c"/><path d="M420.13,101.53 L426.55,97.86 L426.55,105.20 Z" fill="#fb850c"/><path d="M426.93,101.70 L433.35,98.03 L433.35,105.37 Z" fill="#fb850c"/><path d="M433.73,101.68 L440.15,98.01 L440.15,105.35 Z" fill="#fb850c"/><path d="M440.53,102.62 L446.95,98.95 L446.95,106.29 Z" fill="#fb850c"/><path d="M447.33,103.69 L453.75,100.01 L453.75,107.36 Z" fill="#fb850c"/><path d="M454.13,104.71 L460.55,101.04 L460.55,108.38 Z" fill="#fb850c"/><path d="M460.93,105.71 L467.35,102.04 L467.35,109.39 Z" fill="#fb850c"/><path d="M467.73,106.71 L474.15,103.04 L474.15,110.38 Z" fill="#fb850c"/><path d="M474.53,107.62 L480.95,103.95 L480.95,111.29 Z" fill="#fb850c"/><path d="M481.33,108.33 L487.75,104.66 L487.75,112.00 Z" fill="#fb850c"/><path d="M488.13,108.97 L494.55,105.30 L494.55,112.64 Z" fill="#fb850c"/><path d="M494.93,109.58 L501.35,105.90 L501.35,113.25 Z" fill="#fb850c"/><path d="M501.73,110.25 L508.15,106.57 L508.15,113.92 Z" fill="#fb850c"/><path d="M508.53,110.93 L514.95,107.26 L514.95,114.60 Z" fill="#fb850c"/><path d="M515.33,111.62 L521.75,107.95 L521.75,115.29 Z" fill="#fb850c"/><path d="M522.13,112.20 L528.55,108.52 L528.55,115.87 Z" fill="#fb850c"/><path d="M528.93,112.77 L535.35,109.10 L535.35,116.45 Z" fill="#fb850c"/><path d="M535.73,113.35 L542.15,109.68 L542.15,117.02 Z" fill="#fb850c"/><path d="M542.53,113.93 L548.95,110.26 L548.95,117.60 Z" fill="#fb850c"/><path d="M549.33,114.51 L555.75,110.84 L555.75,118.18 Z" fill="#fb850c"/><path d="M556.13,115.03 L562.55,111.35 L562.55,118.70 Z" fill="#fb850c"/><path d="M562.93,115.42 L569.35,111.75 L569.35,119.09 Z" fill="#fb850c"/><path d="M569.73,115.81 L576.15,112.14 L576.15,119.48 Z" fill="#fb850c"/><path d="M576.53,116.20 L582.95,112.53 L582.95,119.87 Z" fill="#fb850c"/><path d="M583.33,116.59 L589.75,112.92 L589.75,120.27 Z" fill="#fb850c"/><path d="M590.13,116.99 L596.55,113.31 L596.55,120.66 Z" fill="#fb850c"/><path d="M596.93,117.38 L603.35,113.70 L603.35,121.05 Z" fill="#fb850c"/>
<path d="M376.20,47.05 L383.00,49.16 L389.80,52.32 L396.60,55.06 L403.40,56.85 L410.20,57.30 L417.00,57.78 L423.80,58.34 L430.60,58.90 L437.40,59.57 L444.20,60.37 L451.00,61.18 L457.80,61.80 L464.60,62.29 L471.40,62.78 L478.20,63.35 L485.00,63.96 L491.80,64.58 L498.60,65.27 L505.40,65.95 L512.20,66.64 L519.00,67.32 L525.80,68.00 L532.60,68.69 L539.40,69.37 L546.20,70.05 L553.00,70.74 L559.80,71.37 L566.60,71.88 L573.40,72.40 L580.20,72.92 L587.00,73.44 L593.80,73.95 L600.60,74.47" fill="none" stroke="#ff0000" stroke-width="2.4" stroke-linejoin="round"/>
<path d="M379.87,47.05 L373.45,43.38 L373.45,50.72 Z" fill="#ff0000"/><path d="M386.67,49.16 L380.25,45.48 L380.25,52.83 Z" fill="#ff0000"/><path d="M393.47,52.32 L387.05,48.65 L387.05,55.99 Z" fill="#ff0000"/><path d="M400.27,55.06 L393.85,51.39 L393.85,58.73 Z" fill="#ff0000"/><path d="M407.07,56.85 L400.65,53.18 L400.65,60.52 Z" fill="#ff0000"/><path d="M413.87,57.30 L407.45,53.63 L407.45,60.97 Z" fill="#ff0000"/><path d="M420.67,57.78 L414.25,54.11 L414.25,61.45 Z" fill="#ff0000"/><path d="M427.47,58.34 L421.05,54.67 L421.05,62.01 Z" fill="#ff0000"/><path d="M434.27,58.90 L427.85,55.22 L427.85,62.57 Z" fill="#ff0000"/><path d="M441.07,59.57 L434.65,55.90 L434.65,63.24 Z" fill="#ff0000"/><path d="M447.87,60.37 L441.45,56.70 L441.45,64.05 Z" fill="#ff0000"/><path d="M454.67,61.18 L448.25,57.51 L448.25,64.85 Z" fill="#ff0000"/><path d="M461.47,61.80 L455.05,58.12 L455.05,65.47 Z" fill="#ff0000"/><path d="M468.27,62.29 L461.85,58.61 L461.85,65.96 Z" fill="#ff0000"/><path d="M475.07,62.78 L468.65,59.11 L468.65,66.45 Z" fill="#ff0000"/><path d="M481.87,63.35 L475.45,59.68 L475.45,67.02 Z" fill="#ff0000"/><path d="M488.67,63.96 L482.25,60.28 L482.25,67.63 Z" fill="#ff0000"/><path d="M495.47,64.58 L489.05,60.91 L489.05,68.25 Z" fill="#ff0000"/><path d="M502.27,65.27 L495.85,61.59 L495.85,68.94 Z" fill="#ff0000"/><path d="M509.07,65.95 L502.65,62.28 L502.65,69.62 Z" fill="#ff0000"/><path d="M515.87,66.64 L509.45,62.96 L509.45,70.31 Z" fill="#ff0000"/><path d="M522.67,67.32 L516.25,63.65 L516.25,70.99 Z" fill="#ff0000"/><path d="M529.47,68.00 L523.05,64.33 L523.05,71.68 Z" fill="#ff0000"/><path d="M536.27,68.69 L529.85,65.02 L529.85,72.36 Z" fill="#ff0000"/><path d="M543.07,69.37 L536.65,65.70 L536.65,73.04 Z" fill="#ff0000"/><path d="M549.87,70.05 L543.45,66.38 L543.45,73.73 Z" fill="#ff0000"/><path d="M556.67,70.74 L550.25,67.07 L550.25,74.41 Z" fill="#ff0000"/><path d="M563.47,71.37 L557.05,67.70 L557.05,75.04 Z" fill="#ff0000"/><path d="M570.27,71.88 L563.85,68.21 L563.85,75.56 Z" fill="#ff0000"/><path d="M577.07,72.40 L570.65,68.73 L570.65,76.07 Z" fill="#ff0000"/><path d="M583.87,72.92 L577.45,69.25 L577.45,76.59 Z" fill="#ff0000"/><path d="M590.67,73.44 L584.25,69.76 L584.25,77.11 Z" fill="#ff0000"/><path d="M597.47,73.95 L591.05,70.28 L591.05,77.62 Z" fill="#ff0000"/><path d="M604.27,74.47 L597.85,70.80 L597.85,78.14 Z" fill="#ff0000"/>
</g>
<text transform="translate(324.6,327.1) scale(0.82,1)" x="0" y="0" font-size="41.5" font-family="Liberation Sans, sans-serif" font-weight="bold">c</text>
<line x1="489.5" y1="336" x2="489.5" y2="556" stroke="#333" stroke-width="1.8" stroke-dasharray="1.8 2.15"/>
<path d="M377,559.3 V333.2 H602.6" fill="none" stroke="#000" stroke-width="3.4" stroke-linejoin="round"/>
<line x1="375.3" y1="557.8" x2="602" y2="557.8" stroke="#000" stroke-width="3.2"/>
<line x1="602.6" y1="331.5" x2="602.6" y2="559.3" stroke="#0000ff" stroke-width="4"/>
<line x1="636.5" y1="333.3" x2="636.5" y2="561.5" stroke="#ff0000" stroke-width="3.6"/>
<line x1="404.9" y1="556" x2="404.9" y2="551.5" stroke="#000" stroke-width="3" stroke-linecap="round"/>
<line x1="404.9" y1="335" x2="404.9" y2="339.3" stroke="#000" stroke-width="3" stroke-linecap="round"/>
<text x="404.9" y="576.3" font-size="14" font-family="Liberation Sans, sans-serif" font-weight="bold" text-anchor="middle">500</text>
<line x1="433.2" y1="556" x2="433.2" y2="554.0" stroke="#000" stroke-width="3" stroke-linecap="round"/>
<line x1="433.2" y1="335" x2="433.2" y2="337.3" stroke="#000" stroke-width="3" stroke-linecap="round"/>
<line x1="461.4" y1="556" x2="461.4" y2="551.5" stroke="#000" stroke-width="3" stroke-linecap="round"/>
<line x1="461.4" y1="335" x2="461.4" y2="339.3" stroke="#000" stroke-width="3" stroke-linecap="round"/>
<text x="461.4" y="576.3" font-size="14" font-family="Liberation Sans, sans-serif" font-weight="bold" text-anchor="middle">600</text>
<line x1="489.7" y1="556" x2="489.7" y2="554.0" stroke="#000" stroke-width="3" stroke-linecap="round"/>
<line x1="489.7" y1="335" x2="489.7" y2="337.3" stroke="#000" stroke-width="3" stroke-linecap="round"/>
<line x1="517.9" y1="556" x2="517.9" y2="551.5" stroke="#000" stroke-width="3" stroke-linecap="round"/>
<line x1="517.9" y1="335" x2="517.9" y2="339.3" stroke="#000" stroke-width="3" stroke-linecap="round"/>
<text x="517.9" y="576.3" font-size="14" font-family="Liberation Sans, sans-serif" font-weight="bold" text-anchor="middle">700</text>
<line x1="546.2" y1="556" x2="546.2" y2="554.0" stroke="#000" stroke-width="3" stroke-linecap="round"/>
<line x1="546.2" y1="335" x2="546.2" y2="337.3" stroke="#000" stroke-width="3" stroke-linecap="round"/>
<line x1="574.5" y1="556" x2="574.5" y2="551.5" stroke="#000" stroke-width="3" stroke-linecap="round"/>
<line x1="574.5" y1="335" x2="574.5" y2="339.3" stroke="#000" stroke-width="3" stroke-linecap="round"/>
<text x="574.5" y="576.3" font-size="14" font-family="Liberation Sans, sans-serif" font-weight="bold" text-anchor="middle">800</text>
<line x1="378.7" y1="348.1" x2="383.2" y2="348.1" stroke="#000" stroke-width="3" stroke-linecap="round"/>
<text x="370" y="351.6" font-size="13" font-family="Liberation Sans, sans-serif" font-weight="bold" text-anchor="end" textLength="23.6" lengthAdjust="spacingAndGlyphs">300</text>
<line x1="378.7" y1="385.6" x2="383.2" y2="385.6" stroke="#000" stroke-width="3" stroke-linecap="round"/>
<text x="370" y="389.1" font-size="13" font-family="Liberation Sans, sans-serif" font-weight="bold" text-anchor="end" textLength="23.6" lengthAdjust="spacingAndGlyphs">275</text>
<line x1="378.7" y1="423.1" x2="383.2" y2="423.1" stroke="#000" stroke-width="3" stroke-linecap="round"/>
<text x="370" y="426.6" font-size="13" font-family="Liberation Sans, sans-serif" font-weight="bold" text-anchor="end" textLength="23.6" lengthAdjust="spacingAndGlyphs">250</text>
<line x1="378.7" y1="460.6" x2="383.2" y2="460.6" stroke="#000" stroke-width="3" stroke-linecap="round"/>
<text x="370" y="464.1" font-size="13" font-family="Liberation Sans, sans-serif" font-weight="bold" text-anchor="end" textLength="23.6" lengthAdjust="spacingAndGlyphs">225</text>
<line x1="378.7" y1="498.1" x2="383.2" y2="498.1" stroke="#000" stroke-width="3" stroke-linecap="round"/>
<text x="370" y="501.6" font-size="13" font-family="Liberation Sans, sans-serif" font-weight="bold" text-anchor="end" textLength="23.6" lengthAdjust="spacingAndGlyphs">200</text>
<line x1="378.7" y1="535.6" x2="383.2" y2="535.6" stroke="#000" stroke-width="3" stroke-linecap="round"/>
<text x="370" y="539.1" font-size="13" font-family="Liberation Sans, sans-serif" font-weight="bold" text-anchor="end" textLength="23.6" lengthAdjust="spacingAndGlyphs">175</text>
<line x1="600.5" y1="389.0" x2="596" y2="389.0" stroke="#0000ff" stroke-width="3" stroke-linecap="round"/>
<text x="608.6" y="394.1" font-size="13.8" font-family="Liberation Sans, sans-serif" font-weight="bold" fill="#1212cc" textLength="14.2" lengthAdjust="spacingAndGlyphs">10</text>
<text x="623.2" y="384.4" font-size="8.6" font-family="Liberation Sans, sans-serif" font-weight="bold" fill="#1212cc">-2</text>
<line x1="600.5" y1="535.4" x2="596" y2="535.4" stroke="#0000ff" stroke-width="3" stroke-linecap="round"/>
<text x="608.6" y="540.5" font-size="13.8" font-family="Liberation Sans, sans-serif" font-weight="bold" fill="#1212cc" textLength="14.2" lengthAdjust="spacingAndGlyphs">10</text>
<text x="623.2" y="530.8" font-size="8.6" font-family="Liberation Sans, sans-serif" font-weight="bold" fill="#1212cc">-3</text>
<line x1="638.3" y1="345.0" x2="643.3" y2="345.0" stroke="#ff0000" stroke-width="3.2" stroke-linecap="round"/>
<text x="645.6" y="348.3" font-size="12.5" font-family="Liberation Sans, sans-serif" font-weight="bold" fill="#e01010" textLength="28" lengthAdjust="spacingAndGlyphs">58.0</text>
<line x1="638.3" y1="413.3" x2="643.3" y2="413.3" stroke="#ff0000" stroke-width="3.2" stroke-linecap="round"/>
<text x="645.6" y="416.6" font-size="12.5" font-family="Liberation Sans, sans-serif" font-weight="bold" fill="#e01010" textLength="28" lengthAdjust="spacingAndGlyphs">57.8</text>
<line x1="638.3" y1="481.7" x2="643.3" y2="481.7" stroke="#ff0000" stroke-width="3.2" stroke-linecap="round"/>
<text x="645.6" y="485.0" font-size="12.5" font-family="Liberation Sans, sans-serif" font-weight="bold" fill="#e01010" textLength="28" lengthAdjust="spacingAndGlyphs">57.6</text>
<line x1="638.3" y1="550.0" x2="643.3" y2="550.0" stroke="#ff0000" stroke-width="3.2" stroke-linecap="round"/>
<text x="645.6" y="553.3" font-size="12.5" font-family="Liberation Sans, sans-serif" font-weight="bold" fill="#e01010" textLength="28" lengthAdjust="spacingAndGlyphs">57.4</text>
<text x="470.6" y="592.9" font-size="12.7" font-family="Liberation Sans, sans-serif" font-weight="bold">T</text>
<text x="478.6" y="598.9" font-size="7" font-family="Liberation Sans, sans-serif" font-weight="bold">D</text>
<text x="486.8" y="594" font-size="13" font-family="Liberation Sans, sans-serif" font-weight="bold">(</text>
<circle cx="492.4" cy="587.3" r="1.8" fill="none" stroke="#000" stroke-width="1"/>
<text x="495.8" y="593" font-size="13" font-family="Liberation Sans, sans-serif" font-weight="bold">C)</text>
<path d="M410.69,522.58 L427.41,517.02 M438.70,512.47 L455.90,504.23 M466.58,498.38 L484.52,487.22 M495.72,483.04 L511.88,480.46 M519.18,473.54 L544.92,354.06 M552.30,348.10 L568.40,348.10" fill="none" stroke="#000" stroke-width="2.4"/>
<path d="M404.90,517.57 L410.60,527.97 L399.20,527.97 Z" fill="#000"/><path d="M433.20,508.17 L438.90,518.57 L427.50,518.57 Z" fill="#000"/><path d="M461.40,494.67 L467.10,505.07 L455.70,505.07 Z" fill="#000"/><path d="M489.70,477.07 L495.40,487.47 L484.00,487.47 Z" fill="#000"/><path d="M517.90,472.57 L523.60,482.97 L512.20,482.97 Z" fill="#000"/><path d="M546.20,341.17 L551.90,351.57 L540.50,351.57 Z" fill="#000"/><path d="M574.50,341.17 L580.20,351.57 L568.80,351.57 Z" fill="#000"/>
<path d="M409.04,473.81 L429.06,496.09 M439.29,501.85 L455.31,504.85 M466.92,508.83 L484.18,517.67 M493.13,515.33 L514.47,483.17 M520.32,472.29 L543.78,417.01 M549.97,406.38 L570.73,379.32" fill="none" stroke="#0000ff" stroke-width="2.4"/>
<rect x="400.80" y="465.10" width="8.2" height="8.2" fill="#0000ff"/><rect x="429.10" y="496.60" width="8.2" height="8.2" fill="#0000ff"/><rect x="457.30" y="501.90" width="8.2" height="8.2" fill="#0000ff"/><rect x="485.60" y="516.40" width="8.2" height="8.2" fill="#0000ff"/><rect x="513.80" y="473.90" width="8.2" height="8.2" fill="#0000ff"/><rect x="542.10" y="407.20" width="8.2" height="8.2" fill="#0000ff"/><rect x="570.40" y="370.30" width="8.2" height="8.2" fill="#0000ff"/>
<path d="M410.47,411.65 L427.63,421.35 M436.80,429.79 L457.80,460.71 M464.03,471.83 L487.07,522.87 M493.30,523.41 L514.30,492.59 M519.94,481.23 L544.16,409.37 M549.81,398.01 L570.89,367.09" fill="none" stroke="#ff0000" stroke-width="2.4"/>
<circle cx="404.90" cy="408.50" r="4.6" fill="#ff0000"/><circle cx="433.20" cy="424.50" r="4.6" fill="#ff0000"/><circle cx="461.40" cy="466.00" r="4.6" fill="#ff0000"/><circle cx="489.70" cy="528.70" r="4.6" fill="#ff0000"/><circle cx="517.90" cy="487.30" r="4.6" fill="#ff0000"/><circle cx="546.20" cy="403.30" r="4.6" fill="#ff0000"/><circle cx="574.50" cy="361.80" r="4.6" fill="#ff0000"/>
<line x1="385.9" y1="348.6" x2="418.7" y2="348.6" stroke="#000" stroke-width="2.2"/>
<path d="M402.10,341.07 L409.00,353.27 L395.20,353.27 Z" fill="#000"/>
<text x="421" y="353.8" font-size="11" font-family="Liberation Sans, sans-serif" font-weight="bold">T</text>
<text x="427.2" y="358.9" font-size="6" font-family="Liberation Sans, sans-serif" font-weight="bold" textLength="9" lengthAdjust="spacingAndGlyphs">MI</text>
<text x="438.8" y="354.5" font-size="11" font-family="Liberation Sans, sans-serif" font-weight="bold">(K)</text>
<line x1="385.9" y1="371.2" x2="418.7" y2="371.2" stroke="#0000ff" stroke-width="2.2"/>
<rect x="397" y="366.3" width="10" height="9.6" fill="#0000ff"/>
<text x="421.3" y="376" font-size="11" font-family="Liberation Sans, sans-serif" font-weight="bold" fill="#1515dd" textLength="110.2" lengthAdjust="spacingAndGlyphs">RT Resistivity (Ω·cm)</text>
<line x1="385.9" y1="391.9" x2="418" y2="391.9" stroke="#ff0000" stroke-width="2.2"/>
<circle cx="402.4" cy="391.6" r="5.6" fill="#ff0000"/>
<text x="421.3" y="396.7" font-size="11" font-family="Liberation Sans, sans-serif" font-weight="bold" fill="#e01818" textLength="104" lengthAdjust="spacingAndGlyphs">Unit cell volume (Å</text>
<text x="525.5" y="389.5" font-size="7" font-family="Liberation Sans, sans-serif" font-weight="bold" fill="#e01818">3</text>
<text x="529.2" y="396.7" font-size="11" font-family="Liberation Sans, sans-serif" font-weight="bold" fill="#e01818">)</text>
</svg>
</body></html>
